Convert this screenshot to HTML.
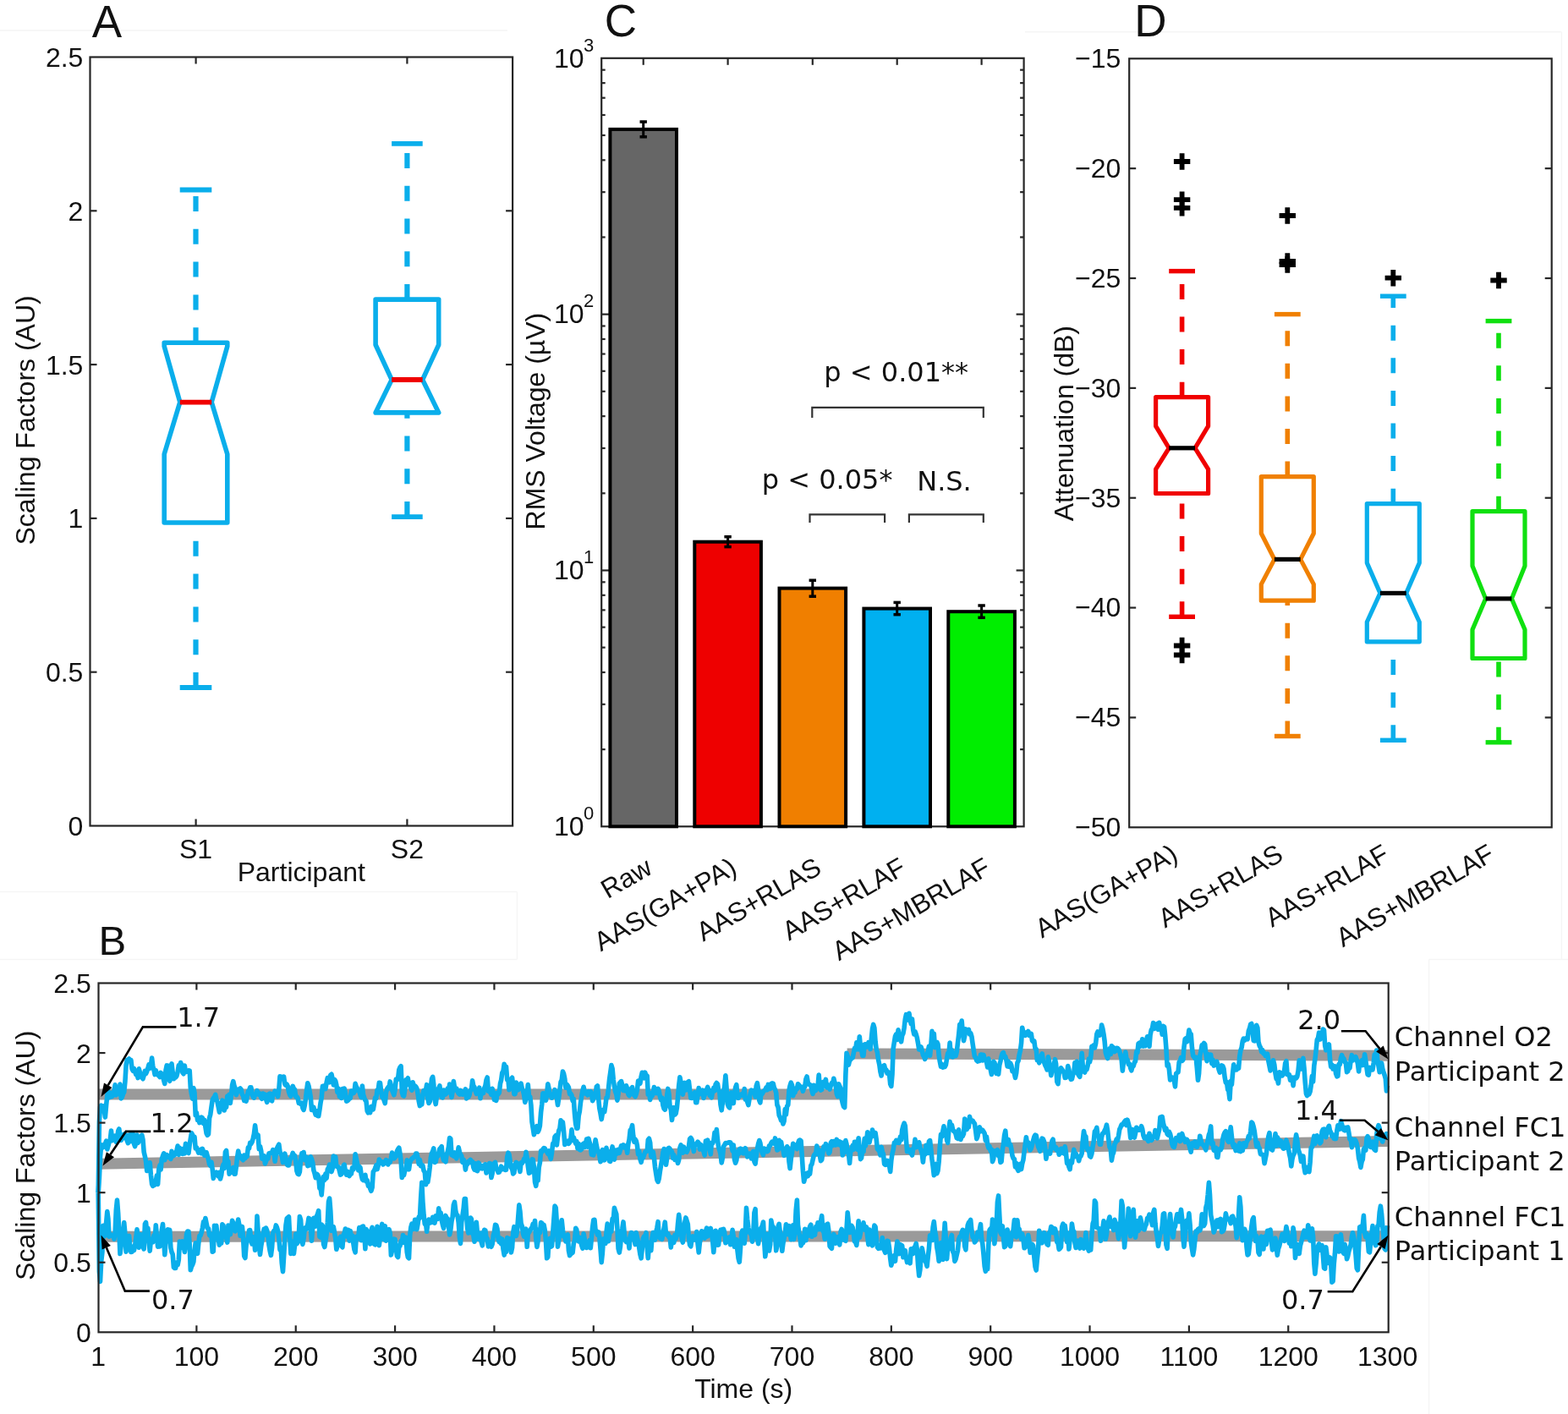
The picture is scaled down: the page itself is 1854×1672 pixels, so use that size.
<!DOCTYPE html>
<html><head><meta charset="utf-8"><title>Figure</title>
<style>html,body{margin:0;padding:0;background:#fff;overflow:hidden;}svg{display:block;}</style></head>
<body><svg width="1854" height="1672" viewBox="0 0 1854 1672">
<rect width="1854" height="1672" fill="#fff"/>
<g stroke="#f5f5f5" stroke-width="1.5" fill="none">
<line x1="0" y1="36" x2="600" y2="36"/>
<line x1="0" y1="1054.5" x2="611" y2="1054.5"/>
<line x1="0" y1="1134.5" x2="611" y2="1134.5"/>
<line x1="611.4" y1="1054.5" x2="611.4" y2="1134.5"/>
<line x1="1212" y1="37.7" x2="1846.4" y2="37.7"/>
<line x1="1846.4" y1="37.7" x2="1846.4" y2="1134.5"/>
<line x1="1689.6" y1="1134.5" x2="1854" y2="1134.5"/>
<line x1="1689.6" y1="1134.5" x2="1689.6" y2="1672"/>
</g>
<text x="108.80" y="43.70" font-size="53" text-anchor="start" font-family="'Liberation Sans', Arial, sans-serif" fill="#111" >A</text>
<rect x="106.5" y="67.5" width="499.60" height="909.00" fill="none" stroke="#262626" stroke-width="2.2"/>
<text x="98.40" y="988.00" font-size="32" text-anchor="end" font-family="'Liberation Sans', Arial, sans-serif" fill="#111" >0</text>
<line x1="106.50" y1="794.70" x2="114.50" y2="794.70" stroke="#262626" stroke-width="2.2" />
<line x1="606.10" y1="794.70" x2="598.10" y2="794.70" stroke="#262626" stroke-width="2.2" />
<text x="98.40" y="806.20" font-size="32" text-anchor="end" font-family="'Liberation Sans', Arial, sans-serif" fill="#111" >0.5</text>
<line x1="106.50" y1="612.90" x2="114.50" y2="612.90" stroke="#262626" stroke-width="2.2" />
<line x1="606.10" y1="612.90" x2="598.10" y2="612.90" stroke="#262626" stroke-width="2.2" />
<text x="98.40" y="624.40" font-size="32" text-anchor="end" font-family="'Liberation Sans', Arial, sans-serif" fill="#111" >1</text>
<line x1="106.50" y1="431.10" x2="114.50" y2="431.10" stroke="#262626" stroke-width="2.2" />
<line x1="606.10" y1="431.10" x2="598.10" y2="431.10" stroke="#262626" stroke-width="2.2" />
<text x="98.40" y="442.60" font-size="32" text-anchor="end" font-family="'Liberation Sans', Arial, sans-serif" fill="#111" >1.5</text>
<line x1="106.50" y1="249.30" x2="114.50" y2="249.30" stroke="#262626" stroke-width="2.2" />
<line x1="606.10" y1="249.30" x2="598.10" y2="249.30" stroke="#262626" stroke-width="2.2" />
<text x="98.40" y="260.80" font-size="32" text-anchor="end" font-family="'Liberation Sans', Arial, sans-serif" fill="#111" >2</text>
<text x="98.40" y="79.00" font-size="32" text-anchor="end" font-family="'Liberation Sans', Arial, sans-serif" fill="#111" >2.5</text>
<line x1="231.60" y1="976.50" x2="231.60" y2="968.50" stroke="#262626" stroke-width="2.2" />
<line x1="231.60" y1="67.50" x2="231.60" y2="75.50" stroke="#262626" stroke-width="2.2" />
<text x="231.60" y="1015.20" font-size="32" text-anchor="middle" font-family="'Liberation Sans', Arial, sans-serif" fill="#111" >S1</text>
<line x1="481.40" y1="976.50" x2="481.40" y2="968.50" stroke="#262626" stroke-width="2.2" />
<line x1="481.40" y1="67.50" x2="481.40" y2="75.50" stroke="#262626" stroke-width="2.2" />
<text x="481.40" y="1015.20" font-size="32" text-anchor="middle" font-family="'Liberation Sans', Arial, sans-serif" fill="#111" >S2</text>
<text x="356.30" y="1041.60" font-size="32" text-anchor="middle" font-family="'Liberation Sans', Arial, sans-serif" fill="#111" >Participant</text>
<text x="40.70" y="496.90" font-size="32" text-anchor="middle" font-family="'Liberation Sans', Arial, sans-serif" fill="#111" transform="rotate(-90 40.7 496.9)">Scaling Factors (AU)</text>
<line x1="231.5" y1="405.20" x2="231.5" y2="224.50" stroke="#0aaeeb" stroke-width="6.2" stroke-dasharray="18 20.8"/>
<line x1="231.5" y1="813.00" x2="231.5" y2="618.00" stroke="#0aaeeb" stroke-width="6.2" stroke-dasharray="18 20.8"/>
<line x1="212.70" y1="224.50" x2="250.30" y2="224.50" stroke="#0aaeeb" stroke-width="5.8"/>
<line x1="212.70" y1="813.00" x2="250.30" y2="813.00" stroke="#0aaeeb" stroke-width="5.8"/>
<path d="M194.20,405.20 L268.80,405.20 L268.80,409.50 L250.20,475.60 L268.80,537.00 L268.80,618.00 L194.20,618.00 L194.20,537.00 L212.80,475.60 L194.20,409.50 Z" fill="none" stroke="#0aaeeb" stroke-width="5.6" stroke-linejoin="round"/>
<line x1="212.80" y1="475.60" x2="250.20" y2="475.60" stroke="#f00000" stroke-width="5.8"/>
<line x1="481.4" y1="354.10" x2="481.4" y2="169.90" stroke="#0aaeeb" stroke-width="6.2" stroke-dasharray="18 20.8"/>
<line x1="481.4" y1="611.10" x2="481.4" y2="487.90" stroke="#0aaeeb" stroke-width="6.2" stroke-dasharray="18 20.8"/>
<line x1="463.10" y1="169.90" x2="499.70" y2="169.90" stroke="#0aaeeb" stroke-width="5.8"/>
<line x1="463.10" y1="611.10" x2="499.70" y2="611.10" stroke="#0aaeeb" stroke-width="5.8"/>
<path d="M444.10,354.10 L518.70,354.10 L518.70,407.80 L499.60,449.00 L518.70,487.90 L518.70,487.90 L444.10,487.90 L444.10,487.90 L463.20,449.00 L444.10,407.80 Z" fill="none" stroke="#0aaeeb" stroke-width="5.6" stroke-linejoin="round"/>
<line x1="463.20" y1="449.00" x2="499.60" y2="449.00" stroke="#f00000" stroke-width="5.8"/>
<text x="714.70" y="43.00" font-size="53" text-anchor="start" font-family="'Liberation Sans', Arial, sans-serif" fill="#111" >C</text>
<rect x="711.2" y="68.8" width="499.40" height="908.50" fill="none" stroke="#262626" stroke-width="2.2"/>
<text x="654.90" y="988.10" font-size="32" text-anchor="start" font-family="'Liberation Sans', Arial, sans-serif" fill="#111" >10</text>
<text x="690.00" y="969.10" font-size="22" text-anchor="start" font-family="'Liberation Sans', Arial, sans-serif" fill="#111" >0</text>
<line x1="711.20" y1="886.14" x2="715.70" y2="886.14" stroke="#262626" stroke-width="2.2" />
<line x1="1210.60" y1="886.14" x2="1206.10" y2="886.14" stroke="#262626" stroke-width="2.2" />
<line x1="711.20" y1="832.81" x2="715.70" y2="832.81" stroke="#262626" stroke-width="2.2" />
<line x1="1210.60" y1="832.81" x2="1206.10" y2="832.81" stroke="#262626" stroke-width="2.2" />
<line x1="711.20" y1="794.98" x2="715.70" y2="794.98" stroke="#262626" stroke-width="2.2" />
<line x1="1210.60" y1="794.98" x2="1206.10" y2="794.98" stroke="#262626" stroke-width="2.2" />
<line x1="711.20" y1="765.63" x2="715.70" y2="765.63" stroke="#262626" stroke-width="2.2" />
<line x1="1210.60" y1="765.63" x2="1206.10" y2="765.63" stroke="#262626" stroke-width="2.2" />
<line x1="711.20" y1="741.65" x2="715.70" y2="741.65" stroke="#262626" stroke-width="2.2" />
<line x1="1210.60" y1="741.65" x2="1206.10" y2="741.65" stroke="#262626" stroke-width="2.2" />
<line x1="711.20" y1="721.38" x2="715.70" y2="721.38" stroke="#262626" stroke-width="2.2" />
<line x1="1210.60" y1="721.38" x2="1206.10" y2="721.38" stroke="#262626" stroke-width="2.2" />
<line x1="711.20" y1="703.81" x2="715.70" y2="703.81" stroke="#262626" stroke-width="2.2" />
<line x1="1210.60" y1="703.81" x2="1206.10" y2="703.81" stroke="#262626" stroke-width="2.2" />
<line x1="711.20" y1="688.32" x2="715.70" y2="688.32" stroke="#262626" stroke-width="2.2" />
<line x1="1210.60" y1="688.32" x2="1206.10" y2="688.32" stroke="#262626" stroke-width="2.2" />
<line x1="711.20" y1="674.47" x2="720.20" y2="674.47" stroke="#262626" stroke-width="2.2" />
<line x1="1210.60" y1="674.47" x2="1201.60" y2="674.47" stroke="#262626" stroke-width="2.2" />
<text x="654.90" y="685.27" font-size="32" text-anchor="start" font-family="'Liberation Sans', Arial, sans-serif" fill="#111" >10</text>
<text x="690.00" y="666.27" font-size="22" text-anchor="start" font-family="'Liberation Sans', Arial, sans-serif" fill="#111" >1</text>
<line x1="711.20" y1="583.30" x2="715.70" y2="583.30" stroke="#262626" stroke-width="2.2" />
<line x1="1210.60" y1="583.30" x2="1206.10" y2="583.30" stroke="#262626" stroke-width="2.2" />
<line x1="711.20" y1="529.98" x2="715.70" y2="529.98" stroke="#262626" stroke-width="2.2" />
<line x1="1210.60" y1="529.98" x2="1206.10" y2="529.98" stroke="#262626" stroke-width="2.2" />
<line x1="711.20" y1="492.14" x2="715.70" y2="492.14" stroke="#262626" stroke-width="2.2" />
<line x1="1210.60" y1="492.14" x2="1206.10" y2="492.14" stroke="#262626" stroke-width="2.2" />
<line x1="711.20" y1="462.80" x2="715.70" y2="462.80" stroke="#262626" stroke-width="2.2" />
<line x1="1210.60" y1="462.80" x2="1206.10" y2="462.80" stroke="#262626" stroke-width="2.2" />
<line x1="711.20" y1="438.82" x2="715.70" y2="438.82" stroke="#262626" stroke-width="2.2" />
<line x1="1210.60" y1="438.82" x2="1206.10" y2="438.82" stroke="#262626" stroke-width="2.2" />
<line x1="711.20" y1="418.54" x2="715.70" y2="418.54" stroke="#262626" stroke-width="2.2" />
<line x1="1210.60" y1="418.54" x2="1206.10" y2="418.54" stroke="#262626" stroke-width="2.2" />
<line x1="711.20" y1="400.98" x2="715.70" y2="400.98" stroke="#262626" stroke-width="2.2" />
<line x1="1210.60" y1="400.98" x2="1206.10" y2="400.98" stroke="#262626" stroke-width="2.2" />
<line x1="711.20" y1="385.49" x2="715.70" y2="385.49" stroke="#262626" stroke-width="2.2" />
<line x1="1210.60" y1="385.49" x2="1206.10" y2="385.49" stroke="#262626" stroke-width="2.2" />
<line x1="711.20" y1="371.63" x2="720.20" y2="371.63" stroke="#262626" stroke-width="2.2" />
<line x1="1210.60" y1="371.63" x2="1201.60" y2="371.63" stroke="#262626" stroke-width="2.2" />
<text x="654.90" y="382.43" font-size="32" text-anchor="start" font-family="'Liberation Sans', Arial, sans-serif" fill="#111" >10</text>
<text x="690.00" y="363.43" font-size="22" text-anchor="start" font-family="'Liberation Sans', Arial, sans-serif" fill="#111" >2</text>
<line x1="711.20" y1="280.47" x2="715.70" y2="280.47" stroke="#262626" stroke-width="2.2" />
<line x1="1210.60" y1="280.47" x2="1206.10" y2="280.47" stroke="#262626" stroke-width="2.2" />
<line x1="711.20" y1="227.15" x2="715.70" y2="227.15" stroke="#262626" stroke-width="2.2" />
<line x1="1210.60" y1="227.15" x2="1206.10" y2="227.15" stroke="#262626" stroke-width="2.2" />
<line x1="711.20" y1="189.31" x2="715.70" y2="189.31" stroke="#262626" stroke-width="2.2" />
<line x1="1210.60" y1="189.31" x2="1206.10" y2="189.31" stroke="#262626" stroke-width="2.2" />
<line x1="711.20" y1="159.96" x2="715.70" y2="159.96" stroke="#262626" stroke-width="2.2" />
<line x1="1210.60" y1="159.96" x2="1206.10" y2="159.96" stroke="#262626" stroke-width="2.2" />
<line x1="711.20" y1="135.98" x2="715.70" y2="135.98" stroke="#262626" stroke-width="2.2" />
<line x1="1210.60" y1="135.98" x2="1206.10" y2="135.98" stroke="#262626" stroke-width="2.2" />
<line x1="711.20" y1="115.71" x2="715.70" y2="115.71" stroke="#262626" stroke-width="2.2" />
<line x1="1210.60" y1="115.71" x2="1206.10" y2="115.71" stroke="#262626" stroke-width="2.2" />
<line x1="711.20" y1="98.15" x2="715.70" y2="98.15" stroke="#262626" stroke-width="2.2" />
<line x1="1210.60" y1="98.15" x2="1206.10" y2="98.15" stroke="#262626" stroke-width="2.2" />
<line x1="711.20" y1="82.66" x2="715.70" y2="82.66" stroke="#262626" stroke-width="2.2" />
<line x1="1210.60" y1="82.66" x2="1206.10" y2="82.66" stroke="#262626" stroke-width="2.2" />
<text x="654.90" y="79.60" font-size="32" text-anchor="start" font-family="'Liberation Sans', Arial, sans-serif" fill="#111" >10</text>
<text x="690.00" y="60.60" font-size="22" text-anchor="start" font-family="'Liberation Sans', Arial, sans-serif" fill="#111" >3</text>
<text x="644.10" y="498.10" font-size="32" text-anchor="middle" font-family="'Liberation Sans', Arial, sans-serif" fill="#111" transform="rotate(-90 644.1 498.1)">RMS Voltage (&#181;V)</text>
<line x1="760.70" y1="68.80" x2="760.70" y2="76.80" stroke="#262626" stroke-width="2.2" />
<rect x="721.40" y="152.90" width="78.6" height="824.40" fill="#666666" stroke="#000" stroke-width="4"/>
<line x1="760.7" y1="144.0" x2="760.7" y2="161.8" stroke="#000" stroke-width="3"/>
<line x1="756.50" y1="144.0" x2="764.90" y2="144.0" stroke="#000" stroke-width="3.5"/>
<line x1="756.50" y1="161.8" x2="764.90" y2="161.8" stroke="#000" stroke-width="3.5"/>
<line x1="860.60" y1="68.80" x2="860.60" y2="76.80" stroke="#262626" stroke-width="2.2" />
<rect x="821.30" y="640.70" width="78.6" height="336.60" fill="#ee0000" stroke="#000" stroke-width="4"/>
<line x1="860.6" y1="634.7" x2="860.6" y2="646.6" stroke="#000" stroke-width="3"/>
<line x1="856.40" y1="634.7" x2="864.80" y2="634.7" stroke="#000" stroke-width="3.5"/>
<line x1="856.40" y1="646.6" x2="864.80" y2="646.6" stroke="#000" stroke-width="3.5"/>
<line x1="960.80" y1="68.80" x2="960.80" y2="76.80" stroke="#262626" stroke-width="2.2" />
<rect x="921.50" y="695.60" width="78.6" height="281.70" fill="#f07f00" stroke="#000" stroke-width="4"/>
<line x1="960.8" y1="686.2" x2="960.8" y2="705.2" stroke="#000" stroke-width="3"/>
<line x1="956.60" y1="686.2" x2="965.00" y2="686.2" stroke="#000" stroke-width="3.5"/>
<line x1="956.60" y1="705.2" x2="965.00" y2="705.2" stroke="#000" stroke-width="3.5"/>
<line x1="1060.70" y1="68.80" x2="1060.70" y2="76.80" stroke="#262626" stroke-width="2.2" />
<rect x="1021.40" y="719.60" width="78.6" height="257.70" fill="#00b0f0" stroke="#000" stroke-width="4"/>
<line x1="1060.7" y1="712.4" x2="1060.7" y2="726.7" stroke="#000" stroke-width="3"/>
<line x1="1056.50" y1="712.4" x2="1064.90" y2="712.4" stroke="#000" stroke-width="3.5"/>
<line x1="1056.50" y1="726.7" x2="1064.90" y2="726.7" stroke="#000" stroke-width="3.5"/>
<line x1="1160.60" y1="68.80" x2="1160.60" y2="76.80" stroke="#262626" stroke-width="2.2" />
<rect x="1121.30" y="723.20" width="78.6" height="254.10" fill="#00ee00" stroke="#000" stroke-width="4"/>
<line x1="1160.6" y1="716.0" x2="1160.6" y2="730.3" stroke="#000" stroke-width="3"/>
<line x1="1156.40" y1="716.0" x2="1164.80" y2="716.0" stroke="#000" stroke-width="3.5"/>
<line x1="1156.40" y1="730.3" x2="1164.80" y2="730.3" stroke="#000" stroke-width="3.5"/>
<text x="773.20" y="1031.80" font-size="31.5" text-anchor="end" font-family="'Liberation Sans', Arial, sans-serif" fill="#111" transform="rotate(-30 773.20 1031.8)">Raw</text>
<text x="873.10" y="1031.80" font-size="31.5" text-anchor="end" font-family="'Liberation Sans', Arial, sans-serif" fill="#111" transform="rotate(-30 873.10 1031.8)">AAS(GA+PA)</text>
<text x="973.30" y="1031.80" font-size="31.5" text-anchor="end" font-family="'Liberation Sans', Arial, sans-serif" fill="#111" transform="rotate(-30 973.30 1031.8)">AAS+RLAS</text>
<text x="1073.20" y="1031.80" font-size="31.5" text-anchor="end" font-family="'Liberation Sans', Arial, sans-serif" fill="#111" transform="rotate(-30 1073.20 1031.8)">AAS+RLAF</text>
<text x="1173.10" y="1031.80" font-size="31.5" text-anchor="end" font-family="'Liberation Sans', Arial, sans-serif" fill="#111" transform="rotate(-30 1173.10 1031.8)">AAS+MBRLAF</text>
<path d="M960.3,494 L960.3,481.9 L1162.8,481.9 L1162.8,494" fill="none" stroke="#333" stroke-width="2.2"/>
<path d="M957.5,618 L957.5,608.3 L1046.1,608.3 L1046.1,618" fill="none" stroke="#333" stroke-width="2.2"/>
<path d="M1074.9,618 L1074.9,608.3 L1162.8,608.3 L1162.8,618" fill="none" stroke="#333" stroke-width="2.2"/>
<text x="974.30" y="451.30" font-size="32" text-anchor="start" font-family="'DejaVu Sans', sans-serif" fill="#111" >p &lt; 0.01**</text>
<text x="900.70" y="577.70" font-size="32" text-anchor="start" font-family="'DejaVu Sans', sans-serif" fill="#111" >p &lt; 0.05*</text>
<text x="1084.20" y="579.50" font-size="32" text-anchor="start" font-family="'DejaVu Sans', sans-serif" fill="#111" >N.S.</text>
<text x="1341.20" y="43.40" font-size="53" text-anchor="start" font-family="'Liberation Sans', Arial, sans-serif" fill="#111" >D</text>
<rect x="1335.2" y="69.3" width="499.50" height="909.00" fill="none" stroke="#262626" stroke-width="2.2"/>
<text x="1325.40" y="80.10" font-size="32" text-anchor="end" font-family="'Liberation Sans', Arial, sans-serif" fill="#111" >&#8722;15</text>
<line x1="1335.20" y1="199.16" x2="1343.20" y2="199.16" stroke="#262626" stroke-width="2.2" />
<line x1="1834.70" y1="199.16" x2="1826.70" y2="199.16" stroke="#262626" stroke-width="2.2" />
<text x="1325.40" y="209.96" font-size="32" text-anchor="end" font-family="'Liberation Sans', Arial, sans-serif" fill="#111" >&#8722;20</text>
<line x1="1335.20" y1="329.01" x2="1343.20" y2="329.01" stroke="#262626" stroke-width="2.2" />
<line x1="1834.70" y1="329.01" x2="1826.70" y2="329.01" stroke="#262626" stroke-width="2.2" />
<text x="1325.40" y="339.81" font-size="32" text-anchor="end" font-family="'Liberation Sans', Arial, sans-serif" fill="#111" >&#8722;25</text>
<line x1="1335.20" y1="458.87" x2="1343.20" y2="458.87" stroke="#262626" stroke-width="2.2" />
<line x1="1834.70" y1="458.87" x2="1826.70" y2="458.87" stroke="#262626" stroke-width="2.2" />
<text x="1325.40" y="469.67" font-size="32" text-anchor="end" font-family="'Liberation Sans', Arial, sans-serif" fill="#111" >&#8722;30</text>
<line x1="1335.20" y1="588.73" x2="1343.20" y2="588.73" stroke="#262626" stroke-width="2.2" />
<line x1="1834.70" y1="588.73" x2="1826.70" y2="588.73" stroke="#262626" stroke-width="2.2" />
<text x="1325.40" y="599.53" font-size="32" text-anchor="end" font-family="'Liberation Sans', Arial, sans-serif" fill="#111" >&#8722;35</text>
<line x1="1335.20" y1="718.59" x2="1343.20" y2="718.59" stroke="#262626" stroke-width="2.2" />
<line x1="1834.70" y1="718.59" x2="1826.70" y2="718.59" stroke="#262626" stroke-width="2.2" />
<text x="1325.40" y="729.39" font-size="32" text-anchor="end" font-family="'Liberation Sans', Arial, sans-serif" fill="#111" >&#8722;40</text>
<line x1="1335.20" y1="848.44" x2="1343.20" y2="848.44" stroke="#262626" stroke-width="2.2" />
<line x1="1834.70" y1="848.44" x2="1826.70" y2="848.44" stroke="#262626" stroke-width="2.2" />
<text x="1325.40" y="859.24" font-size="32" text-anchor="end" font-family="'Liberation Sans', Arial, sans-serif" fill="#111" >&#8722;45</text>
<text x="1325.40" y="989.10" font-size="32" text-anchor="end" font-family="'Liberation Sans', Arial, sans-serif" fill="#111" >&#8722;50</text>
<text x="1268.60" y="500.60" font-size="32" text-anchor="middle" font-family="'Liberation Sans', Arial, sans-serif" fill="#111" transform="rotate(-90 1268.6 500.6)">Attenuation (dB)</text>
<line x1="1397.6" y1="469.70" x2="1397.6" y2="320.60" stroke="#f00000" stroke-width="5.6" stroke-dasharray="18 20.6"/>
<line x1="1397.6" y1="729.30" x2="1397.6" y2="583.50" stroke="#f00000" stroke-width="5.6" stroke-dasharray="18 20.6"/>
<line x1="1382.20" y1="320.60" x2="1413.00" y2="320.60" stroke="#f00000" stroke-width="5.4"/>
<line x1="1382.20" y1="729.30" x2="1413.00" y2="729.30" stroke="#f00000" stroke-width="5.4"/>
<path d="M1366.60,469.70 L1428.60,469.70 L1428.60,503.80 L1413.00,529.80 L1428.60,554.90 L1428.60,583.50 L1366.60,583.50 L1366.60,554.90 L1382.20,529.80 L1366.60,503.80 Z" fill="none" stroke="#f00000" stroke-width="5.2" stroke-linejoin="round"/>
<line x1="1382.20" y1="529.80" x2="1413.00" y2="529.80" stroke="#000" stroke-width="5.2"/>
<path d="M1387.90,191.0 h19.4 M1397.60,181.30 v19.4" stroke="#000" stroke-width="5.8"/>
<path d="M1387.90,236.2 h19.4 M1397.60,226.50 v19.4" stroke="#000" stroke-width="5.8"/>
<path d="M1387.90,245.9 h19.4 M1397.60,236.20 v19.4" stroke="#000" stroke-width="5.8"/>
<path d="M1387.90,763.5 h19.4 M1397.60,753.80 v19.4" stroke="#000" stroke-width="5.8"/>
<path d="M1387.90,774.5 h19.4 M1397.60,764.80 v19.4" stroke="#000" stroke-width="5.8"/>
<text x="1394.60" y="1016.00" font-size="31.5" text-anchor="end" font-family="'Liberation Sans', Arial, sans-serif" fill="#111" transform="rotate(-30 1394.60 1016)">AAS(GA+PA)</text>
<line x1="1522.3" y1="563.60" x2="1522.3" y2="371.60" stroke="#f08000" stroke-width="5.6" stroke-dasharray="18 20.6"/>
<line x1="1522.3" y1="870.50" x2="1522.3" y2="710.20" stroke="#f08000" stroke-width="5.6" stroke-dasharray="18 20.6"/>
<line x1="1506.90" y1="371.60" x2="1537.70" y2="371.60" stroke="#f08000" stroke-width="5.4"/>
<line x1="1506.90" y1="870.50" x2="1537.70" y2="870.50" stroke="#f08000" stroke-width="5.4"/>
<path d="M1491.30,563.60 L1553.30,563.60 L1553.30,630.70 L1537.70,661.40 L1553.30,690.90 L1553.30,710.20 L1491.30,710.20 L1491.30,690.90 L1506.90,661.40 L1491.30,630.70 Z" fill="none" stroke="#f08000" stroke-width="5.2" stroke-linejoin="round"/>
<line x1="1506.90" y1="661.40" x2="1537.70" y2="661.40" stroke="#000" stroke-width="5.2"/>
<path d="M1512.60,255.0 h19.4 M1522.30,245.30 v19.4" stroke="#000" stroke-width="5.8"/>
<path d="M1512.60,309.0 h19.4 M1522.30,299.30 v19.4" stroke="#000" stroke-width="5.8"/>
<path d="M1512.60,313.0 h19.4 M1522.30,303.30 v19.4" stroke="#000" stroke-width="5.8"/>
<text x="1519.30" y="1016.00" font-size="31.5" text-anchor="end" font-family="'Liberation Sans', Arial, sans-serif" fill="#111" transform="rotate(-30 1519.30 1016)">AAS+RLAS</text>
<line x1="1647.3" y1="595.70" x2="1647.3" y2="350.20" stroke="#0aaeeb" stroke-width="5.6" stroke-dasharray="18 20.6"/>
<line x1="1647.3" y1="875.30" x2="1647.3" y2="758.80" stroke="#0aaeeb" stroke-width="5.6" stroke-dasharray="18 20.6"/>
<line x1="1631.90" y1="350.20" x2="1662.70" y2="350.20" stroke="#0aaeeb" stroke-width="5.4"/>
<line x1="1631.90" y1="875.30" x2="1662.70" y2="875.30" stroke="#0aaeeb" stroke-width="5.4"/>
<path d="M1616.30,595.70 L1678.30,595.70 L1678.30,665.60 L1662.70,701.40 L1678.30,735.50 L1678.30,758.80 L1616.30,758.80 L1616.30,735.50 L1631.90,701.40 L1616.30,665.60 Z" fill="none" stroke="#0aaeeb" stroke-width="5.2" stroke-linejoin="round"/>
<line x1="1631.90" y1="701.40" x2="1662.70" y2="701.40" stroke="#000" stroke-width="5.2"/>
<path d="M1637.60,328.7 h19.4 M1647.30,319.00 v19.4" stroke="#000" stroke-width="5.8"/>
<text x="1644.30" y="1016.00" font-size="31.5" text-anchor="end" font-family="'Liberation Sans', Arial, sans-serif" fill="#111" transform="rotate(-30 1644.30 1016)">AAS+RLAF</text>
<line x1="1772.0" y1="604.70" x2="1772.0" y2="379.60" stroke="#10e010" stroke-width="5.6" stroke-dasharray="18 20.6"/>
<line x1="1772.0" y1="877.80" x2="1772.0" y2="778.50" stroke="#10e010" stroke-width="5.6" stroke-dasharray="18 20.6"/>
<line x1="1756.60" y1="379.60" x2="1787.40" y2="379.60" stroke="#10e010" stroke-width="5.4"/>
<line x1="1756.60" y1="877.80" x2="1787.40" y2="877.80" stroke="#10e010" stroke-width="5.4"/>
<path d="M1741.00,604.70 L1803.00,604.70 L1803.00,669.20 L1787.40,707.90 L1803.00,744.40 L1803.00,778.50 L1741.00,778.50 L1741.00,744.40 L1756.60,707.90 L1741.00,669.20 Z" fill="none" stroke="#10e010" stroke-width="5.2" stroke-linejoin="round"/>
<line x1="1756.60" y1="707.90" x2="1787.40" y2="707.90" stroke="#000" stroke-width="5.2"/>
<path d="M1762.30,331.5 h19.4 M1772.00,321.80 v19.4" stroke="#000" stroke-width="5.8"/>
<text x="1769.00" y="1016.00" font-size="31.5" text-anchor="end" font-family="'Liberation Sans', Arial, sans-serif" fill="#111" transform="rotate(-30 1769.00 1016)">AAS+MBRLAF</text>
<text x="116.40" y="1128.80" font-size="49" text-anchor="start" font-family="'Liberation Sans', Arial, sans-serif" fill="#111" >B</text>
<line x1="116.2" y1="1293.9" x2="997.4" y2="1293.9" stroke="#9a9a9a" stroke-width="13"/>
<line x1="1001.6" y1="1245.9" x2="1640.6" y2="1248.2" stroke="#9a9a9a" stroke-width="13"/>
<line x1="116.2" y1="1376.3" x2="1640.6" y2="1349.4" stroke="#9a9a9a" stroke-width="13"/>
<line x1="116.2" y1="1462.2" x2="1640.6" y2="1461.7" stroke="#9a9a9a" stroke-width="13"/>
<polyline points="116.2,1410.2 117.4,1326.4 118.5,1308.9 119.7,1307.2 120.9,1310.8 122.1,1307.8 123.2,1312.7 124.4,1321.1 125.6,1307.0 126.8,1295.3 127.9,1290.3 129.1,1297.7 130.3,1297.3 131.5,1292.4 132.6,1296.6 133.8,1292.4 135.0,1290.2 136.1,1282.8 137.3,1294.9 138.5,1290.1 139.7,1291.8 140.8,1293.4 142.0,1282.1 143.2,1298.9 144.4,1297.3 145.5,1293.6 146.7,1291.6 147.9,1279.3 149.1,1259.5 150.2,1253.5 151.4,1253.1 152.6,1251.9 153.8,1253.4 154.9,1253.6 156.1,1263.9 157.3,1266.2 158.4,1263.3 159.6,1266.8 160.8,1270.6 162.0,1269.5 163.1,1274.6 164.3,1263.9 165.5,1268.2 166.7,1270.5 167.8,1274.0 169.0,1275.7 170.2,1271.8 171.4,1266.3 172.5,1269.7 173.7,1267.0 174.9,1263.2 176.0,1258.9 177.2,1263.2 178.4,1259.6 179.6,1251.1 180.7,1260.4 181.9,1264.7 183.1,1270.6 184.3,1265.7 185.4,1270.0 186.6,1271.1 187.8,1272.0 189.0,1273.5 190.1,1268.4 191.3,1270.1 192.5,1272.8 193.7,1277.5 194.8,1281.5 196.0,1265.6 197.2,1259.9 198.3,1260.1 199.5,1274.2 200.7,1278.3 201.9,1261.0 203.0,1257.9 204.2,1268.0 205.4,1275.8 206.6,1272.0 207.7,1274.0 208.9,1272.3 210.1,1267.6 211.3,1259.7 212.4,1262.0 213.6,1256.5 214.8,1259.8 215.9,1268.2 217.1,1269.7 218.3,1260.0 219.5,1267.6 220.6,1267.1 221.8,1267.1 223.0,1265.9 224.2,1266.0 225.3,1286.3 226.5,1293.7 227.7,1299.1 228.9,1286.5 230.0,1292.1 231.2,1318.7 232.4,1315.9 233.6,1324.5 234.7,1321.4 235.9,1327.6 237.1,1324.6 238.2,1321.1 239.4,1322.0 240.6,1328.5 241.8,1324.5 242.9,1332.6 244.1,1340.1 245.3,1342.3 246.5,1341.1 247.6,1322.0 248.8,1317.7 250.0,1308.9 251.2,1300.6 252.3,1298.5 253.5,1297.1 254.7,1294.4 255.8,1299.3 257.0,1302.8 258.2,1308.8 259.4,1315.1 260.5,1309.9 261.7,1306.0 262.9,1301.1 264.1,1302.9 265.2,1313.0 266.4,1308.3 267.6,1309.0 268.8,1296.0 269.9,1298.9 271.1,1294.3 272.3,1304.4 273.5,1294.9 274.6,1283.0 275.8,1278.6 277.0,1284.1 278.1,1286.8 279.3,1294.7 280.5,1291.6 281.7,1289.5 282.8,1287.8 284.0,1287.0 285.2,1288.3 286.4,1294.0 287.5,1295.7 288.7,1301.5 289.9,1298.2 291.1,1302.2 292.2,1297.0 293.4,1290.3 294.6,1289.3 295.7,1285.9 296.9,1285.9 298.1,1294.1 299.3,1297.1 300.4,1298.1 301.6,1294.6 302.8,1294.1 304.0,1289.7 305.1,1292.2 306.3,1294.4 307.5,1293.1 308.7,1297.7 309.8,1299.3 311.0,1293.0 312.2,1297.1 313.4,1294.1 314.5,1299.6 315.7,1303.3 316.9,1298.5 318.0,1293.7 319.2,1293.2 320.4,1300.9 321.6,1301.8 322.7,1293.3 323.9,1294.0 325.1,1290.2 326.3,1292.2 327.4,1290.5 328.6,1296.6 329.8,1288.5 331.0,1272.8 332.1,1275.7 333.3,1273.5 334.5,1274.4 335.6,1273.1 336.8,1282.0 338.0,1283.3 339.2,1282.3 340.3,1284.5 341.5,1291.2 342.7,1294.7 343.9,1296.2 345.0,1288.0 346.2,1284.3 347.4,1287.2 348.6,1288.5 349.7,1297.0 350.9,1296.8 352.1,1298.4 353.3,1304.4 354.4,1304.4 355.6,1305.6 356.8,1304.1 357.9,1310.1 359.1,1312.4 360.3,1307.2 361.5,1298.8 362.6,1289.2 363.8,1280.7 365.0,1284.1 366.2,1290.9 367.3,1297.2 368.5,1312.5 369.7,1309.9 370.9,1309.5 372.0,1314.2 373.2,1318.1 374.4,1313.8 375.5,1319.5 376.7,1319.7 377.9,1312.3 379.1,1303.7 380.2,1297.9 381.4,1284.4 382.6,1287.7 383.8,1283.8 384.9,1287.6 386.1,1280.0 387.3,1274.6 388.5,1278.7 389.6,1279.7 390.8,1271.4 392.0,1270.3 393.2,1276.1 394.3,1282.9 395.5,1276.4 396.7,1278.2 397.8,1282.8 399.0,1291.6 400.2,1287.1 401.4,1296.7 402.5,1292.1 403.7,1298.4 404.9,1287.5 406.1,1295.6 407.2,1287.1 408.4,1292.3 409.6,1302.2 410.8,1301.8 411.9,1300.8 413.1,1297.7 414.3,1298.5 415.4,1290.1 416.6,1292.4 417.8,1292.7 419.0,1291.2 420.1,1281.4 421.3,1285.1 422.5,1287.0 423.7,1289.6 424.8,1290.4 426.0,1294.8 427.2,1297.6 428.4,1284.0 429.5,1294.1 430.7,1297.9 431.9,1301.0 433.0,1302.1 434.2,1313.7 435.4,1315.9 436.6,1315.1 437.7,1315.5 438.9,1308.6 440.1,1308.7 441.3,1311.8 442.4,1305.2 443.6,1298.1 444.8,1298.5 446.0,1289.0 447.1,1289.7 448.3,1280.3 449.5,1280.5 450.7,1291.0 451.8,1297.0 453.0,1298.3 454.2,1301.3 455.3,1304.5 456.5,1291.6 457.7,1287.6 458.9,1285.7 460.0,1286.9 461.2,1278.9 462.4,1283.4 463.6,1289.1 464.7,1292.0 465.9,1294.8 467.1,1288.7 468.3,1276.1 469.4,1277.0 470.6,1275.4 471.8,1265.0 472.9,1262.2 474.1,1260.7 475.3,1291.4 476.5,1295.4 477.6,1296.0 478.8,1288.4 480.0,1276.8 481.2,1276.7 482.3,1274.8 483.5,1282.9 484.7,1280.3 485.9,1287.4 487.0,1289.2 488.2,1279.8 489.4,1285.5 490.6,1284.0 491.7,1284.9 492.9,1287.1 494.1,1293.5 495.2,1302.0 496.4,1307.6 497.6,1303.5 498.8,1305.9 499.9,1294.2 501.1,1289.5 502.3,1293.0 503.5,1289.1 504.6,1282.7 505.8,1298.8 507.0,1304.4 508.2,1302.5 509.3,1286.5 510.5,1275.7 511.7,1273.3 512.8,1282.7 514.0,1300.1 515.2,1305.6 516.4,1296.5 517.5,1287.8 518.7,1287.3 519.9,1284.0 521.1,1294.3 522.2,1297.3 523.4,1297.8 524.6,1289.1 525.8,1293.1 526.9,1294.0 528.1,1292.6 529.3,1287.2 530.5,1291.5 531.6,1282.1 532.8,1288.8 534.0,1297.5 535.1,1290.8 536.3,1278.5 537.5,1286.0 538.7,1288.8 539.8,1287.1 541.0,1290.5 542.2,1293.1 543.4,1294.0 544.5,1289.4 545.7,1291.5 546.9,1294.1 548.1,1290.6 549.2,1292.6 550.4,1287.9 551.6,1298.9 552.7,1295.6 553.9,1297.2 555.1,1294.8 556.3,1289.0 557.4,1288.2 558.6,1277.9 559.8,1284.1 561.0,1285.6 562.1,1290.0 563.3,1293.3 564.5,1292.1 565.7,1290.9 566.8,1286.2 568.0,1298.8 569.2,1290.3 570.4,1289.6 571.5,1292.7 572.7,1286.6 573.9,1283.8 575.0,1277.1 576.2,1274.0 577.4,1290.3 578.6,1289.4 579.7,1291.9 580.9,1294.4 582.1,1287.3 583.3,1292.1 584.4,1300.5 585.6,1295.5 586.8,1301.4 588.0,1292.2 589.1,1293.7 590.3,1292.1 591.5,1281.3 592.6,1277.3 593.8,1268.4 595.0,1266.5 596.2,1258.2 597.3,1263.6 598.5,1261.2 599.7,1276.7 600.9,1276.3 602.0,1288.7 603.2,1279.9 604.4,1275.7 605.6,1274.3 606.7,1284.2 607.9,1293.7 609.1,1293.6 610.3,1280.0 611.4,1281.9 612.6,1288.8 613.8,1284.3 614.9,1284.8 616.1,1281.2 617.3,1287.0 618.5,1289.8 619.6,1294.6 620.8,1303.4 622.0,1298.4 623.2,1292.7 624.3,1282.5 625.5,1296.6 626.7,1296.7 627.9,1306.5 629.0,1326.5 630.2,1334.0 631.4,1341.8 632.5,1338.0 633.7,1335.9 634.9,1331.7 636.1,1338.4 637.2,1336.1 638.4,1331.0 639.6,1315.2 640.8,1305.5 641.9,1292.7 643.1,1293.2 644.3,1295.0 645.5,1301.2 646.6,1293.6 647.8,1281.7 649.0,1286.9 650.2,1295.4 651.3,1295.8 652.5,1298.2 653.7,1296.0 654.8,1295.1 656.0,1288.7 657.2,1291.7 658.4,1298.7 659.5,1306.6 660.7,1298.6 661.9,1288.9 663.1,1279.2 664.2,1277.1 665.4,1267.0 666.6,1269.7 667.8,1275.6 668.9,1286.2 670.1,1282.1 671.3,1283.7 672.4,1285.8 673.6,1293.6 674.8,1293.2 676.0,1295.2 677.1,1301.6 678.3,1299.5 679.5,1317.0 680.7,1329.1 681.8,1334.1 683.0,1334.1 684.2,1319.4 685.4,1313.8 686.5,1303.7 687.7,1296.1 688.9,1289.6 690.1,1285.3 691.2,1290.2 692.4,1293.1 693.6,1292.5 694.7,1294.9 695.9,1290.7 697.1,1292.8 698.3,1290.6 699.4,1292.3 700.6,1301.7 701.8,1299.5 703.0,1293.6 704.1,1296.0 705.3,1285.1 706.5,1283.9 707.7,1299.1 708.8,1310.5 710.0,1316.5 711.2,1323.6 712.3,1317.0 713.5,1312.3 714.7,1314.8 715.9,1306.9 717.0,1298.1 718.2,1297.2 719.4,1287.9 720.6,1276.0 721.7,1268.3 722.9,1259.6 724.1,1263.5 725.3,1277.1 726.4,1284.8 727.6,1290.6 728.8,1294.0 729.9,1301.2 731.1,1293.3 732.3,1281.1 733.5,1279.7 734.6,1278.6 735.8,1283.2 737.0,1289.5 738.2,1286.5 739.3,1289.9 740.5,1283.8 741.7,1287.3 742.9,1293.9 744.0,1295.6 745.2,1293.0 746.4,1287.2 747.6,1285.6 748.7,1292.5 749.9,1295.3 751.1,1296.7 752.2,1293.8 753.4,1288.9 754.6,1278.0 755.8,1281.5 756.9,1281.2 758.1,1273.1 759.3,1268.3 760.5,1270.7 761.6,1274.9 762.8,1268.2 764.0,1273.1 765.2,1272.2 766.3,1294.1 767.5,1291.7 768.7,1300.4 769.8,1295.1 771.0,1296.2 772.2,1291.8 773.4,1285.5 774.5,1292.1 775.7,1292.7 776.9,1290.6 778.1,1287.3 779.2,1290.2 780.4,1296.7 781.6,1300.7 782.8,1298.1 783.9,1307.0 785.1,1311.0 786.3,1312.1 787.5,1306.1 788.6,1295.6 789.8,1287.4 791.0,1293.5 792.1,1308.2 793.3,1312.1 794.5,1324.5 795.7,1315.1 796.8,1309.7 798.0,1318.1 799.2,1316.5 800.4,1309.7 801.5,1298.3 802.7,1283.5 803.9,1273.7 805.1,1279.9 806.2,1290.1 807.4,1294.1 808.6,1285.9 809.7,1280.4 810.9,1289.0 812.1,1283.9 813.3,1279.5 814.4,1278.7 815.6,1288.9 816.8,1298.3 818.0,1298.4 819.1,1296.6 820.3,1293.6 821.5,1291.8 822.7,1303.8 823.8,1303.8 825.0,1294.9 826.2,1286.5 827.4,1293.7 828.5,1291.5 829.7,1293.2 830.9,1289.2 832.0,1298.5 833.2,1294.6 834.4,1291.6 835.6,1288.3 836.7,1285.4 837.9,1288.9 839.1,1295.3 840.3,1289.8 841.4,1297.9 842.6,1290.9 843.8,1286.4 845.0,1289.9 846.1,1282.3 847.3,1280.5 848.5,1281.9 849.6,1289.1 850.8,1291.0 852.0,1306.3 853.2,1312.8 854.3,1304.3 855.5,1290.5 856.7,1284.7 857.9,1271.7 859.0,1285.5 860.2,1305.2 861.4,1308.5 862.6,1309.9 863.7,1297.6 864.9,1291.9 866.1,1298.5 867.3,1304.6 868.4,1293.0 869.6,1286.0 870.8,1282.7 871.9,1296.2 873.1,1298.4 874.3,1294.3 875.5,1295.7 876.6,1295.3 877.8,1293.1 879.0,1295.3 880.2,1287.6 881.3,1300.1 882.5,1299.7 883.7,1303.0 884.9,1306.5 886.0,1299.8 887.2,1293.1 888.4,1289.1 889.5,1290.2 890.7,1291.2 891.9,1289.4 893.1,1296.9 894.2,1284.2 895.4,1280.6 896.6,1288.5 897.8,1301.2 898.9,1303.8 900.1,1291.8 901.3,1293.4 902.5,1290.9 903.6,1289.6 904.8,1288.6 906.0,1286.0 907.2,1288.8 908.3,1282.4 909.5,1286.3 910.7,1287.4 911.8,1281.5 913.0,1280.9 914.2,1281.2 915.4,1286.3 916.5,1288.3 917.7,1292.2 918.9,1306.5 920.1,1309.2 921.2,1318.7 922.4,1321.2 923.6,1324.9 924.8,1323.0 925.9,1328.9 927.1,1325.8 928.3,1311.6 929.4,1317.9 930.6,1308.0 931.8,1306.6 933.0,1289.2 934.1,1283.9 935.3,1280.2 936.5,1283.1 937.7,1295.8 938.8,1291.9 940.0,1291.7 941.2,1286.9 942.4,1287.6 943.5,1281.8 944.7,1283.0 945.9,1284.7 947.1,1285.9 948.2,1285.4 949.4,1290.4 950.6,1285.7 951.7,1285.2 952.9,1276.1 954.1,1273.0 955.3,1280.1 956.4,1282.2 957.6,1282.7 958.8,1283.5 960.0,1289.4 961.1,1293.5 962.3,1283.2 963.5,1289.9 964.7,1289.3 965.8,1285.9 967.0,1284.8 968.2,1271.0 969.3,1285.5 970.5,1289.0 971.7,1288.5 972.9,1279.7 974.0,1279.1 975.2,1282.2 976.4,1276.4 977.6,1286.0 978.7,1285.1 979.9,1283.4 981.1,1288.1 982.3,1283.7 983.4,1280.7 984.6,1281.5 985.8,1275.3 987.0,1280.1 988.1,1283.4 989.3,1293.4 990.5,1296.5 991.6,1281.7 992.8,1284.4 994.0,1287.2 995.2,1299.5 996.3,1304.5 997.5,1308.4 998.7,1309.6 999.9,1270.4 1001.0,1245.3 1002.2,1248.7 1003.4,1259.2 1004.6,1253.8 1005.7,1253.1 1006.9,1251.1 1008.1,1251.0 1009.2,1245.7 1010.4,1239.7 1011.6,1241.1 1012.8,1232.8 1013.9,1235.5 1015.1,1240.8 1016.3,1225.8 1017.5,1238.2 1018.6,1241.3 1019.8,1248.3 1021.0,1248.3 1022.2,1235.0 1023.3,1234.8 1024.5,1238.0 1025.7,1237.6 1026.9,1232.6 1028.0,1235.6 1029.2,1240.5 1030.4,1227.5 1031.5,1216.5 1032.7,1211.4 1033.9,1215.6 1035.1,1231.7 1036.2,1240.4 1037.4,1244.6 1038.6,1253.3 1039.8,1258.8 1040.9,1267.0 1042.1,1272.0 1043.3,1265.0 1044.5,1260.4 1045.6,1259.8 1046.8,1265.0 1048.0,1265.0 1049.1,1269.2 1050.3,1267.8 1051.5,1269.6 1052.7,1281.9 1053.8,1284.4 1055.0,1270.6 1056.2,1239.7 1057.4,1232.1 1058.5,1225.2 1059.7,1222.9 1060.9,1229.5 1062.1,1217.8 1063.2,1227.4 1064.4,1226.3 1065.6,1231.8 1066.7,1224.5 1067.9,1222.1 1069.1,1215.4 1070.3,1205.1 1071.4,1199.7 1072.6,1205.8 1073.8,1206.1 1075.0,1198.3 1076.1,1206.3 1077.3,1210.7 1078.5,1205.0 1079.7,1217.8 1080.8,1222.8 1082.0,1219.8 1083.2,1222.9 1084.4,1227.4 1085.5,1233.4 1086.7,1241.0 1087.9,1241.1 1089.0,1237.9 1090.2,1241.9 1091.4,1247.6 1092.6,1249.5 1093.7,1252.4 1094.9,1249.0 1096.1,1247.0 1097.3,1242.9 1098.4,1237.4 1099.6,1248.2 1100.8,1236.4 1102.0,1219.4 1103.1,1231.5 1104.3,1222.3 1105.5,1238.6 1106.6,1235.5 1107.8,1232.3 1109.0,1234.8 1110.2,1248.3 1111.3,1255.2 1112.5,1261.1 1113.7,1258.4 1114.9,1262.2 1116.0,1259.9 1117.2,1261.3 1118.4,1259.1 1119.6,1251.6 1120.7,1245.6 1121.9,1246.0 1123.1,1233.0 1124.3,1249.1 1125.4,1241.6 1126.6,1250.0 1127.8,1248.1 1128.9,1248.6 1130.1,1248.6 1131.3,1243.5 1132.5,1233.0 1133.6,1223.9 1134.8,1211.2 1136.0,1212.5 1137.2,1207.1 1138.3,1221.3 1139.5,1230.6 1140.7,1224.9 1141.9,1216.9 1143.0,1217.8 1144.2,1218.2 1145.4,1217.5 1146.5,1222.9 1147.7,1221.7 1148.9,1225.5 1150.1,1234.1 1151.2,1241.5 1152.4,1249.1 1153.6,1250.6 1154.8,1254.0 1155.9,1255.0 1157.1,1252.3 1158.3,1254.3 1159.5,1247.1 1160.6,1247.0 1161.8,1254.0 1163.0,1247.4 1164.2,1252.8 1165.3,1253.7 1166.5,1255.8 1167.7,1262.0 1168.8,1251.8 1170.0,1261.2 1171.2,1264.5 1172.4,1270.5 1173.5,1263.3 1174.7,1255.3 1175.9,1256.5 1177.1,1260.6 1178.2,1269.4 1179.4,1267.5 1180.6,1270.2 1181.8,1259.3 1182.9,1255.1 1184.1,1249.2 1185.3,1245.4 1186.4,1244.6 1187.6,1249.4 1188.8,1249.4 1190.0,1254.1 1191.1,1260.8 1192.3,1255.1 1193.5,1261.5 1194.7,1257.3 1195.8,1259.6 1197.0,1266.8 1198.2,1266.9 1199.4,1269.3 1200.5,1274.5 1201.7,1268.7 1202.9,1256.8 1204.1,1254.3 1205.2,1247.2 1206.4,1242.4 1207.6,1233.1 1208.7,1215.2 1209.9,1220.5 1211.1,1220.5 1212.3,1224.5 1213.4,1221.1 1214.6,1222.5 1215.8,1219.5 1217.0,1224.4 1218.1,1223.6 1219.3,1222.4 1220.5,1230.6 1221.7,1231.8 1222.8,1230.9 1224.0,1239.9 1225.2,1240.3 1226.3,1253.6 1227.5,1252.8 1228.7,1256.8 1229.9,1252.1 1231.0,1248.4 1232.2,1246.0 1233.4,1254.6 1234.6,1256.1 1235.7,1259.4 1236.9,1261.8 1238.1,1264.9 1239.3,1249.9 1240.4,1254.2 1241.6,1262.1 1242.8,1271.7 1244.0,1265.8 1245.1,1259.1 1246.3,1258.1 1247.5,1252.7 1248.6,1257.8 1249.8,1279.1 1251.0,1281.7 1252.2,1268.4 1253.3,1267.6 1254.5,1262.8 1255.7,1264.6 1256.9,1266.5 1258.0,1267.8 1259.2,1274.4 1260.4,1274.2 1261.6,1270.8 1262.7,1260.5 1263.9,1264.7 1265.1,1272.5 1266.2,1276.3 1267.4,1276.0 1268.6,1270.8 1269.8,1268.3 1270.9,1256.5 1272.1,1257.3 1273.3,1255.2 1274.5,1269.7 1275.6,1271.7 1276.8,1273.2 1278.0,1260.8 1279.2,1245.4 1280.3,1261.0 1281.5,1267.0 1282.7,1268.0 1283.9,1262.0 1285.0,1264.6 1286.2,1259.8 1287.4,1252.1 1288.5,1255.9 1289.7,1250.5 1290.9,1237.3 1292.1,1237.2 1293.2,1236.0 1294.4,1239.0 1295.6,1234.1 1296.8,1222.7 1297.9,1220.0 1299.1,1221.2 1300.3,1224.2 1301.5,1221.6 1302.6,1212.1 1303.8,1216.3 1305.0,1222.9 1306.1,1231.0 1307.3,1244.7 1308.5,1248.6 1309.7,1251.5 1310.8,1241.9 1312.0,1240.0 1313.2,1246.6 1314.4,1236.7 1315.5,1240.1 1316.7,1238.8 1317.9,1243.6 1319.1,1242.4 1320.2,1239.3 1321.4,1239.5 1322.6,1240.7 1323.8,1243.4 1324.9,1247.7 1326.1,1252.3 1327.3,1266.1 1328.4,1256.2 1329.6,1250.3 1330.8,1244.0 1332.0,1252.3 1333.1,1253.1 1334.3,1258.5 1335.5,1257.9 1336.7,1262.9 1337.8,1265.8 1339.0,1261.3 1340.2,1260.6 1341.4,1256.2 1342.5,1255.0 1343.7,1243.6 1344.9,1244.7 1346.0,1234.2 1347.2,1233.2 1348.4,1237.1 1349.6,1234.9 1350.7,1228.8 1351.9,1237.1 1353.1,1234.8 1354.3,1236.6 1355.4,1230.4 1356.6,1225.8 1357.8,1231.4 1359.0,1237.2 1360.1,1223.6 1361.3,1217.9 1362.5,1215.9 1363.6,1209.5 1364.8,1216.5 1366.0,1213.1 1367.2,1214.5 1368.3,1210.6 1369.5,1217.5 1370.7,1209.2 1371.9,1216.2 1373.0,1213.9 1374.2,1223.3 1375.4,1213.4 1376.6,1214.1 1377.7,1224.4 1378.9,1239.4 1380.1,1260.1 1381.3,1258.3 1382.4,1264.7 1383.6,1276.9 1384.8,1275.9 1385.9,1273.9 1387.1,1274.7 1388.3,1277.5 1389.5,1284.9 1390.6,1269.6 1391.8,1268.4 1393.0,1268.1 1394.2,1255.8 1395.3,1254.8 1396.5,1250.5 1397.7,1254.5 1398.9,1253.1 1400.0,1237.9 1401.2,1228.7 1402.4,1227.7 1403.5,1231.8 1404.7,1226.8 1405.9,1218.1 1407.1,1221.9 1408.2,1222.8 1409.4,1238.4 1410.6,1248.2 1411.8,1249.9 1412.9,1251.4 1414.1,1250.2 1415.3,1262.7 1416.5,1277.3 1417.6,1269.4 1418.8,1248.3 1420.0,1243.1 1421.2,1235.7 1422.3,1235.7 1423.5,1233.5 1424.7,1234.8 1425.8,1246.2 1427.0,1254.7 1428.2,1246.5 1429.4,1250.5 1430.5,1252.7 1431.7,1247.2 1432.9,1257.7 1434.1,1253.2 1435.2,1260.1 1436.4,1258.3 1437.6,1257.2 1438.8,1255.2 1439.9,1259.2 1441.1,1264.6 1442.3,1268.1 1443.4,1264.3 1444.6,1259.9 1445.8,1260.5 1447.0,1263.8 1448.1,1273.5 1449.3,1279.9 1450.5,1279.3 1451.7,1288.4 1452.8,1290.1 1454.0,1299.6 1455.2,1278.6 1456.4,1282.5 1457.5,1270.0 1458.7,1258.8 1459.9,1263.1 1461.1,1262.0 1462.2,1264.9 1463.4,1262.3 1464.6,1263.1 1465.7,1249.5 1466.9,1242.0 1468.1,1238.7 1469.3,1231.0 1470.4,1228.1 1471.6,1230.1 1472.8,1227.8 1474.0,1227.9 1475.1,1228.8 1476.3,1219.3 1477.5,1216.1 1478.7,1211.2 1479.8,1210.5 1481.0,1216.7 1482.2,1230.6 1483.3,1230.9 1484.5,1224.1 1485.7,1212.4 1486.9,1215.3 1488.0,1232.1 1489.2,1236.5 1490.4,1238.6 1491.6,1243.7 1492.7,1241.5 1493.9,1245.8 1495.1,1245.2 1496.3,1248.4 1497.4,1247.2 1498.6,1246.1 1499.8,1254.4 1501.0,1260.4 1502.1,1266.0 1503.3,1258.4 1504.5,1260.4 1505.6,1253.8 1506.8,1258.8 1508.0,1269.2 1509.2,1275.7 1510.3,1275.9 1511.5,1281.0 1512.7,1267.9 1513.9,1268.3 1515.0,1270.1 1516.2,1271.9 1517.4,1270.3 1518.6,1266.1 1519.7,1257.2 1520.9,1254.6 1522.1,1270.6 1523.2,1270.4 1524.4,1270.7 1525.6,1277.2 1526.8,1275.3 1527.9,1274.3 1529.1,1283.7 1530.3,1274.1 1531.5,1274.0 1532.6,1274.8 1533.8,1273.1 1535.0,1266.5 1536.2,1253.7 1537.3,1262.9 1538.5,1263.8 1539.7,1260.4 1540.9,1251.4 1542.0,1262.7 1543.2,1279.6 1544.4,1293.1 1545.5,1295.6 1546.7,1292.9 1547.9,1293.8 1549.1,1290.8 1550.2,1283.5 1551.4,1272.6 1552.6,1279.1 1553.8,1260.1 1554.9,1252.7 1556.1,1242.0 1557.3,1229.6 1558.5,1227.4 1559.6,1221.1 1560.8,1229.1 1562.0,1227.0 1563.1,1224.4 1564.3,1217.1 1565.5,1218.0 1566.7,1236.4 1567.8,1241.8 1569.0,1239.1 1570.2,1237.7 1571.4,1235.0 1572.5,1252.2 1573.7,1261.5 1574.9,1259.0 1576.1,1264.0 1577.2,1261.3 1578.4,1260.8 1579.6,1269.6 1580.8,1272.8 1581.9,1272.4 1583.1,1258.3 1584.3,1258.7 1585.4,1251.3 1586.6,1247.6 1587.8,1251.1 1589.0,1251.9 1590.1,1255.8 1591.3,1256.6 1592.5,1267.6 1593.7,1266.6 1594.8,1261.2 1596.0,1262.9 1597.2,1253.5 1598.4,1247.7 1599.5,1253.9 1600.7,1251.0 1601.9,1251.3 1603.0,1249.8 1604.2,1252.9 1605.4,1257.6 1606.6,1267.0 1607.7,1256.3 1608.9,1256.0 1610.1,1253.9 1611.3,1259.6 1612.4,1256.8 1613.6,1246.8 1614.8,1254.2 1616.0,1262.8 1617.1,1270.7 1618.3,1271.2 1619.5,1262.3 1620.7,1263.3 1621.8,1262.9 1623.0,1264.9 1624.2,1256.6 1625.3,1246.9 1626.5,1250.1 1627.7,1242.0 1628.9,1254.4 1630.0,1260.4 1631.2,1267.7 1632.4,1265.7 1633.6,1256.9 1634.7,1263.5 1635.9,1267.9 1637.1,1271.3 1638.3,1275.5 1639.4,1290.0 1640.6,1283.7" fill="none" stroke="#0aaeeb" stroke-width="5.6" stroke-linejoin="round"/>
<polyline points="116.2,1410.2 117.4,1392.9 118.5,1367.9 119.7,1353.8 120.9,1357.3 122.1,1356.4 123.2,1353.2 124.4,1352.6 125.6,1349.2 126.8,1358.9 127.9,1355.1 129.1,1350.6 130.3,1347.5 131.5,1337.0 132.6,1348.8 133.8,1346.5 135.0,1347.4 136.1,1343.1 137.3,1350.3 138.5,1345.8 139.7,1337.5 140.8,1335.0 142.0,1343.4 143.2,1348.3 144.4,1346.6 145.5,1343.0 146.7,1341.1 147.9,1341.0 149.1,1345.1 150.2,1348.7 151.4,1351.7 152.6,1342.3 153.8,1349.8 154.9,1340.8 156.1,1342.4 157.3,1340.7 158.4,1352.2 159.6,1355.5 160.8,1351.1 162.0,1342.1 163.1,1351.4 164.3,1349.3 165.5,1348.7 166.7,1344.1 167.8,1342.1 169.0,1347.7 170.2,1362.4 171.4,1367.4 172.5,1372.7 173.7,1384.5 174.9,1383.8 176.0,1383.0 177.2,1374.7 178.4,1389.2 179.6,1400.0 180.7,1402.4 181.9,1400.2 183.1,1401.0 184.3,1396.8 185.4,1390.1 186.6,1400.4 187.8,1382.5 189.0,1377.9 190.1,1383.1 191.3,1370.7 192.5,1366.7 193.7,1363.8 194.8,1371.7 196.0,1365.8 197.2,1365.5 198.3,1367.8 199.5,1368.5 200.7,1366.8 201.9,1370.5 203.0,1361.4 204.2,1367.1 205.4,1366.3 206.6,1365.6 207.7,1363.0 208.9,1360.7 210.1,1355.0 211.3,1365.4 212.4,1357.3 213.6,1360.0 214.8,1360.5 215.9,1364.5 217.1,1358.4 218.3,1363.9 219.5,1352.4 220.6,1354.9 221.8,1362.7 223.0,1363.5 224.2,1353.9 225.3,1346.7 226.5,1339.8 227.7,1342.1 228.9,1344.3 230.0,1344.2 231.2,1357.9 232.4,1356.9 233.6,1360.0 234.7,1363.1 235.9,1362.8 237.1,1359.5 238.2,1363.8 239.4,1358.4 240.6,1361.7 241.8,1366.4 242.9,1364.6 244.1,1362.7 245.3,1367.0 246.5,1371.2 247.6,1376.6 248.8,1378.5 250.0,1374.3 251.2,1382.6 252.3,1393.4 253.5,1388.8 254.7,1388.9 255.8,1386.2 257.0,1387.2 258.2,1390.9 259.4,1386.4 260.5,1394.0 261.7,1389.6 262.9,1380.5 264.1,1376.9 265.2,1381.5 266.4,1362.5 267.6,1360.4 268.8,1375.4 269.9,1373.2 271.1,1388.2 272.3,1381.8 273.5,1386.2 274.6,1385.9 275.8,1380.5 277.0,1388.3 278.1,1388.3 279.3,1379.7 280.5,1369.0 281.7,1361.1 282.8,1367.1 284.0,1366.5 285.2,1369.2 286.4,1370.7 287.5,1371.7 288.7,1366.1 289.9,1369.5 291.1,1367.5 292.2,1367.4 293.4,1356.8 294.6,1357.9 295.7,1351.4 296.9,1352.4 298.1,1350.4 299.3,1345.9 300.4,1340.9 301.6,1330.8 302.8,1340.3 304.0,1344.5 305.1,1342.0 306.3,1358.7 307.5,1355.5 308.7,1360.6 309.8,1370.2 311.0,1370.2 312.2,1366.6 313.4,1375.9 314.5,1373.2 315.7,1369.1 316.9,1369.9 318.0,1363.7 319.2,1363.6 320.4,1363.5 321.6,1362.8 322.7,1359.7 323.9,1362.5 325.1,1373.3 326.3,1364.4 327.4,1358.0 328.6,1355.6 329.8,1353.2 331.0,1362.0 332.1,1365.0 333.3,1366.7 334.5,1374.6 335.6,1368.3 336.8,1364.2 338.0,1369.9 339.2,1376.9 340.3,1377.9 341.5,1377.9 342.7,1371.7 343.9,1369.4 345.0,1367.4 346.2,1363.4 347.4,1365.8 348.6,1366.4 349.7,1372.8 350.9,1384.7 352.1,1388.2 353.3,1388.6 354.4,1385.5 355.6,1370.7 356.8,1363.9 357.9,1367.7 359.1,1362.5 360.3,1371.6 361.5,1369.1 362.6,1368.5 363.8,1378.8 365.0,1375.8 366.2,1377.7 367.3,1367.7 368.5,1370.6 369.7,1374.7 370.9,1383.9 372.0,1387.3 373.2,1392.7 374.4,1388.1 375.5,1389.1 376.7,1391.2 377.9,1405.1 379.1,1405.1 380.2,1412.9 381.4,1399.1 382.6,1391.3 383.8,1395.2 384.9,1388.2 386.1,1393.3 387.3,1382.8 388.5,1380.8 389.6,1377.0 390.8,1378.6 392.0,1385.6 393.2,1381.4 394.3,1367.0 395.5,1371.8 396.7,1368.0 397.8,1379.3 399.0,1379.6 400.2,1379.7 401.4,1384.6 402.5,1389.1 403.7,1388.3 404.9,1383.1 406.1,1378.5 407.2,1377.1 408.4,1385.4 409.6,1389.0 410.8,1385.2 411.9,1389.2 413.1,1390.5 414.3,1386.0 415.4,1388.1 416.6,1380.8 417.8,1382.9 419.0,1378.9 420.1,1364.7 421.3,1370.0 422.5,1375.6 423.7,1383.9 424.8,1379.3 426.0,1380.6 427.2,1389.3 428.4,1394.4 429.5,1395.5 430.7,1391.9 431.9,1389.3 433.0,1397.0 434.2,1395.8 435.4,1402.3 436.6,1400.8 437.7,1405.5 438.9,1408.3 440.1,1404.3 441.3,1385.5 442.4,1384.2 443.6,1381.3 444.8,1378.0 446.0,1382.6 447.1,1378.8 448.3,1371.0 449.5,1372.8 450.7,1375.0 451.8,1373.9 453.0,1376.9 454.2,1373.8 455.3,1375.5 456.5,1371.7 457.7,1372.5 458.9,1377.0 460.0,1373.1 461.2,1374.3 462.4,1369.6 463.6,1363.0 464.7,1367.0 465.9,1369.9 467.1,1368.5 468.3,1367.2 469.4,1361.2 470.6,1358.9 471.8,1357.2 472.9,1363.4 474.1,1372.6 475.3,1392.4 476.5,1388.2 477.6,1389.5 478.8,1383.9 480.0,1383.3 481.2,1371.7 482.3,1376.3 483.5,1382.8 484.7,1374.5 485.9,1372.1 487.0,1369.9 488.2,1369.6 489.4,1367.9 490.6,1367.7 491.7,1364.1 492.9,1364.0 494.1,1369.5 495.2,1376.4 496.4,1371.4 497.6,1378.8 498.8,1379.1 499.9,1378.2 501.1,1384.4 502.3,1386.0 503.5,1400.8 504.6,1396.0 505.8,1397.7 507.0,1390.3 508.2,1380.5 509.3,1369.2 510.5,1363.7 511.7,1361.3 512.8,1357.9 514.0,1374.4 515.2,1373.8 516.4,1368.0 517.5,1367.4 518.7,1363.0 519.9,1358.6 521.1,1357.2 522.2,1355.8 523.4,1367.5 524.6,1372.1 525.8,1369.9 526.9,1373.8 528.1,1365.3 529.3,1362.0 530.5,1355.9 531.6,1345.5 532.8,1346.4 534.0,1365.8 535.1,1366.2 536.3,1367.2 537.5,1362.9 538.7,1366.2 539.8,1369.9 541.0,1364.5 542.2,1356.8 543.4,1362.2 544.5,1365.1 545.7,1366.9 546.9,1374.4 548.1,1371.3 549.2,1373.7 550.4,1383.1 551.6,1376.1 552.7,1376.6 553.9,1373.4 555.1,1374.4 556.3,1371.3 557.4,1373.2 558.6,1373.6 559.8,1380.3 561.0,1383.1 562.1,1375.7 563.3,1384.1 564.5,1384.5 565.7,1375.0 566.8,1376.1 568.0,1381.6 569.2,1380.1 570.4,1381.7 571.5,1378.3 572.7,1381.3 573.9,1376.8 575.0,1387.0 576.2,1382.0 577.4,1378.5 578.6,1375.6 579.7,1375.7 580.9,1392.5 582.1,1387.5 583.3,1379.5 584.4,1375.5 585.6,1374.4 586.8,1381.6 588.0,1383.1 589.1,1386.3 590.3,1386.0 591.5,1383.6 592.6,1379.1 593.8,1382.7 595.0,1381.1 596.2,1382.7 597.3,1383.4 598.5,1383.2 599.7,1367.9 600.9,1363.2 602.0,1365.1 603.2,1373.1 604.4,1380.6 605.6,1382.3 606.7,1387.9 607.9,1386.6 609.1,1376.7 610.3,1374.4 611.4,1375.2 612.6,1376.5 613.8,1380.5 614.9,1385.5 616.1,1374.7 617.3,1375.6 618.5,1373.7 619.6,1370.5 620.8,1371.2 622.0,1362.3 623.2,1369.0 624.3,1379.0 625.5,1387.3 626.7,1386.4 627.9,1383.3 629.0,1370.9 630.2,1371.0 631.4,1380.2 632.5,1397.5 633.7,1402.3 634.9,1393.2 636.1,1396.0 637.2,1380.4 638.4,1374.7 639.6,1360.9 640.8,1362.2 641.9,1359.0 643.1,1357.5 644.3,1358.1 645.5,1360.6 646.6,1361.9 647.8,1364.2 649.0,1360.8 650.2,1367.3 651.3,1370.3 652.5,1362.7 653.7,1352.3 654.8,1352.3 656.0,1344.2 657.2,1342.7 658.4,1354.0 659.5,1344.2 660.7,1337.0 661.9,1334.5 663.1,1324.7 664.2,1326.9 665.4,1326.8 666.6,1337.7 667.8,1353.5 668.9,1352.5 670.1,1350.2 671.3,1349.2 672.4,1352.3 673.6,1350.7 674.8,1347.2 676.0,1335.9 677.1,1348.4 678.3,1344.8 679.5,1348.4 680.7,1352.3 681.8,1349.7 683.0,1358.0 684.2,1352.4 685.4,1359.5 686.5,1359.9 687.7,1358.8 688.9,1353.2 690.1,1352.1 691.2,1356.5 692.4,1353.0 693.6,1347.1 694.7,1356.2 695.9,1346.2 697.1,1350.9 698.3,1354.6 699.4,1365.2 700.6,1365.4 701.8,1365.8 703.0,1356.0 704.1,1347.8 705.3,1354.4 706.5,1360.1 707.7,1362.3 708.8,1366.2 710.0,1373.7 711.2,1371.8 712.3,1359.6 713.5,1366.6 714.7,1371.8 715.9,1364.1 717.0,1357.3 718.2,1364.1 719.4,1366.7 720.6,1372.9 721.7,1373.4 722.9,1362.4 724.1,1355.9 725.3,1370.1 726.4,1371.0 727.6,1360.1 728.8,1361.8 729.9,1364.0 731.1,1359.3 732.3,1363.4 733.5,1359.2 734.6,1354.8 735.8,1356.7 737.0,1353.8 738.2,1356.9 739.3,1354.8 740.5,1355.4 741.7,1363.2 742.9,1352.4 744.0,1347.5 745.2,1336.5 746.4,1335.5 747.6,1330.7 748.7,1342.5 749.9,1350.2 751.1,1347.2 752.2,1348.9 753.4,1354.3 754.6,1364.9 755.8,1361.4 756.9,1370.5 758.1,1374.3 759.3,1368.9 760.5,1368.9 761.6,1365.5 762.8,1362.1 764.0,1361.3 765.2,1361.2 766.3,1347.7 767.5,1346.3 768.7,1351.2 769.8,1367.4 771.0,1368.0 772.2,1362.0 773.4,1369.1 774.5,1379.8 775.7,1387.9 776.9,1395.1 778.1,1397.4 779.2,1393.7 780.4,1385.2 781.6,1377.8 782.8,1370.6 783.9,1362.5 785.1,1358.5 786.3,1362.9 787.5,1377.2 788.6,1370.3 789.8,1358.2 791.0,1357.3 792.1,1358.5 793.3,1360.7 794.5,1361.8 795.7,1369.5 796.8,1365.8 798.0,1371.5 799.2,1369.0 800.4,1369.9 801.5,1375.4 802.7,1371.4 803.9,1357.4 805.1,1354.0 806.2,1359.7 807.4,1363.0 808.6,1356.2 809.7,1362.0 810.9,1361.2 812.1,1362.2 813.3,1359.4 814.4,1356.0 815.6,1346.7 816.8,1345.5 818.0,1347.5 819.1,1353.4 820.3,1361.6 821.5,1353.7 822.7,1352.6 823.8,1352.3 825.0,1350.2 826.2,1351.8 827.4,1359.1 828.5,1353.6 829.7,1355.0 830.9,1359.2 832.0,1361.7 833.2,1366.1 834.4,1349.1 835.6,1349.5 836.7,1348.2 837.9,1353.2 839.1,1359.0 840.3,1364.8 841.4,1351.3 842.6,1351.9 843.8,1349.1 845.0,1339.2 846.1,1344.2 847.3,1335.6 848.5,1348.2 849.6,1356.4 850.8,1360.1 852.0,1364.7 853.2,1375.0 854.3,1369.7 855.5,1355.6 856.7,1353.9 857.9,1351.6 859.0,1351.7 860.2,1351.4 861.4,1351.0 862.6,1350.7 863.7,1350.9 864.9,1354.0 866.1,1360.8 867.3,1354.1 868.4,1370.8 869.6,1375.2 870.8,1372.1 871.9,1361.9 873.1,1364.9 874.3,1358.9 875.5,1358.2 876.6,1362.8 877.8,1359.2 879.0,1363.8 880.2,1360.2 881.3,1357.7 882.5,1362.9 883.7,1367.9 884.9,1365.2 886.0,1364.0 887.2,1364.3 888.4,1369.8 889.5,1364.4 890.7,1361.4 891.9,1373.5 893.1,1376.2 894.2,1367.3 895.4,1358.6 896.6,1352.5 897.8,1348.5 898.9,1351.7 900.1,1359.2 901.3,1363.3 902.5,1365.7 903.6,1358.0 904.8,1360.1 906.0,1360.6 907.2,1361.7 908.3,1360.8 909.5,1354.8 910.7,1354.6 911.8,1351.6 913.0,1350.0 914.2,1349.9 915.4,1352.1 916.5,1345.9 917.7,1353.0 918.9,1360.0 920.1,1359.5 921.2,1348.2 922.4,1352.3 923.6,1350.3 924.8,1357.4 925.9,1359.4 927.1,1366.3 928.3,1360.8 929.4,1359.7 930.6,1355.8 931.8,1358.1 933.0,1373.6 934.1,1381.6 935.3,1370.1 936.5,1363.0 937.7,1352.2 938.8,1355.0 940.0,1353.9 941.2,1355.4 942.4,1358.6 943.5,1352.1 944.7,1348.7 945.9,1348.0 947.1,1349.1 948.2,1365.9 949.4,1384.5 950.6,1397.2 951.7,1393.0 952.9,1391.5 954.1,1387.4 955.3,1390.6 956.4,1386.4 957.6,1388.1 958.8,1378.3 960.0,1376.4 961.1,1371.4 962.3,1366.4 963.5,1364.8 964.7,1364.7 965.8,1355.1 967.0,1360.6 968.2,1359.7 969.3,1366.1 970.5,1372.7 971.7,1371.4 972.9,1362.7 974.0,1355.8 975.2,1357.7 976.4,1352.7 977.6,1355.4 978.7,1359.2 979.9,1363.9 981.1,1362.5 982.3,1351.5 983.4,1349.6 984.6,1354.6 985.8,1349.5 987.0,1351.4 988.1,1354.0 989.3,1347.4 990.5,1353.5 991.6,1353.1 992.8,1349.9 994.0,1354.5 995.2,1350.8 996.3,1366.0 997.5,1360.9 998.7,1362.3 999.9,1348.6 1001.0,1352.9 1002.2,1361.6 1003.4,1363.8 1004.6,1375.4 1005.7,1362.0 1006.9,1360.2 1008.1,1354.6 1009.2,1359.3 1010.4,1350.3 1011.6,1350.4 1012.8,1355.6 1013.9,1359.3 1015.1,1345.8 1016.3,1357.3 1017.5,1370.6 1018.6,1369.2 1019.8,1359.9 1021.0,1361.7 1022.2,1346.4 1023.3,1355.0 1024.5,1350.9 1025.7,1338.7 1026.9,1343.1 1028.0,1350.9 1029.2,1345.4 1030.4,1344.3 1031.5,1336.1 1032.7,1340.1 1033.9,1342.8 1035.1,1339.7 1036.2,1347.2 1037.4,1358.6 1038.6,1359.9 1039.8,1361.1 1040.9,1366.0 1042.1,1356.2 1043.3,1361.7 1044.5,1364.8 1045.6,1376.3 1046.8,1377.3 1048.0,1374.3 1049.1,1372.5 1050.3,1377.8 1051.5,1378.1 1052.7,1385.4 1053.8,1372.4 1055.0,1364.2 1056.2,1359.4 1057.4,1351.2 1058.5,1351.2 1059.7,1348.4 1060.9,1351.2 1062.1,1348.4 1063.2,1351.4 1064.4,1344.4 1065.6,1347.9 1066.7,1336.2 1067.9,1331.4 1069.1,1328.1 1070.3,1331.2 1071.4,1347.4 1072.6,1361.7 1073.8,1359.9 1075.0,1359.3 1076.1,1362.7 1077.3,1363.6 1078.5,1366.0 1079.7,1358.3 1080.8,1357.2 1082.0,1347.4 1083.2,1356.7 1084.4,1352.7 1085.5,1355.7 1086.7,1350.8 1087.9,1357.6 1089.0,1359.8 1090.2,1363.7 1091.4,1374.2 1092.6,1362.7 1093.7,1365.2 1094.9,1354.4 1096.1,1361.3 1097.3,1363.3 1098.4,1349.8 1099.6,1348.6 1100.8,1358.8 1102.0,1370.9 1103.1,1379.1 1104.3,1389.7 1105.5,1386.4 1106.6,1376.4 1107.8,1387.6 1109.0,1384.2 1110.2,1373.2 1111.3,1356.1 1112.5,1341.4 1113.7,1344.0 1114.9,1337.2 1116.0,1331.8 1117.2,1340.0 1118.4,1337.4 1119.6,1348.4 1120.7,1351.3 1121.9,1336.4 1123.1,1326.3 1124.3,1334.5 1125.4,1330.2 1126.6,1335.7 1127.8,1337.7 1128.9,1338.0 1130.1,1341.1 1131.3,1345.7 1132.5,1346.4 1133.6,1335.8 1134.8,1344.5 1136.0,1347.4 1137.2,1342.7 1138.3,1343.4 1139.5,1340.7 1140.7,1323.0 1141.9,1330.5 1143.0,1335.6 1144.2,1332.6 1145.4,1332.7 1146.5,1320.4 1147.7,1325.5 1148.9,1324.8 1150.1,1325.1 1151.2,1327.1 1152.4,1328.5 1153.6,1336.9 1154.8,1346.6 1155.9,1343.7 1157.1,1335.9 1158.3,1332.8 1159.5,1337.8 1160.6,1335.7 1161.8,1336.4 1163.0,1338.1 1164.2,1340.3 1165.3,1348.7 1166.5,1344.2 1167.7,1353.3 1168.8,1357.3 1170.0,1355.3 1171.2,1360.8 1172.4,1359.0 1173.5,1373.6 1174.7,1370.2 1175.9,1361.0 1177.1,1360.8 1178.2,1362.1 1179.4,1359.7 1180.6,1366.9 1181.8,1364.7 1182.9,1374.4 1184.1,1373.6 1185.3,1359.5 1186.4,1353.2 1187.6,1342.4 1188.8,1337.2 1190.0,1351.3 1191.1,1353.4 1192.3,1347.5 1193.5,1354.1 1194.7,1353.5 1195.8,1358.3 1197.0,1366.5 1198.2,1369.9 1199.4,1370.7 1200.5,1380.0 1201.7,1375.5 1202.9,1382.1 1204.1,1384.3 1205.2,1382.0 1206.4,1376.4 1207.6,1382.6 1208.7,1375.9 1209.9,1371.6 1211.1,1361.6 1212.3,1352.9 1213.4,1344.7 1214.6,1352.7 1215.8,1350.9 1217.0,1352.9 1218.1,1360.0 1219.3,1357.8 1220.5,1353.4 1221.7,1348.4 1222.8,1344.4 1224.0,1342.2 1225.2,1342.6 1226.3,1348.8 1227.5,1355.7 1228.7,1358.5 1229.9,1361.3 1231.0,1350.9 1232.2,1346.2 1233.4,1346.9 1234.6,1350.0 1235.7,1357.0 1236.9,1370.2 1238.1,1363.3 1239.3,1362.2 1240.4,1362.9 1241.6,1364.1 1242.8,1355.4 1244.0,1349.0 1245.1,1347.3 1246.3,1356.2 1247.5,1358.3 1248.6,1356.7 1249.8,1360.4 1251.0,1359.6 1252.2,1365.2 1253.3,1363.8 1254.5,1358.3 1255.7,1358.2 1256.9,1363.3 1258.0,1364.0 1259.2,1355.8 1260.4,1362.7 1261.6,1375.6 1262.7,1375.6 1263.9,1379.7 1265.1,1382.7 1266.2,1372.5 1267.4,1375.2 1268.6,1366.3 1269.8,1359.4 1270.9,1367.6 1272.1,1364.1 1273.3,1366.7 1274.5,1367.8 1275.6,1372.7 1276.8,1368.1 1278.0,1367.1 1279.2,1363.8 1280.3,1348.5 1281.5,1337.5 1282.7,1344.3 1283.9,1343.9 1285.0,1357.6 1286.2,1360.0 1287.4,1358.3 1288.5,1367.1 1289.7,1368.0 1290.9,1364.1 1292.1,1355.3 1293.2,1349.8 1294.4,1338.0 1295.6,1336.7 1296.8,1333.4 1297.9,1341.8 1299.1,1343.1 1300.3,1353.2 1301.5,1353.3 1302.6,1344.6 1303.8,1340.1 1305.0,1339.7 1306.1,1336.8 1307.3,1334.5 1308.5,1330.1 1309.7,1337.5 1310.8,1347.5 1312.0,1356.3 1313.2,1358.4 1314.4,1372.1 1315.5,1365.6 1316.7,1362.7 1317.9,1352.7 1319.1,1351.1 1320.2,1347.0 1321.4,1348.6 1322.6,1342.7 1323.8,1335.2 1324.9,1333.1 1326.1,1329.9 1327.3,1330.0 1328.4,1328.1 1329.6,1326.3 1330.8,1324.9 1332.0,1330.6 1333.1,1324.2 1334.3,1328.7 1335.5,1333.4 1336.7,1345.5 1337.8,1342.6 1339.0,1335.6 1340.2,1343.7 1341.4,1345.0 1342.5,1340.2 1343.7,1333.3 1344.9,1334.8 1346.0,1336.1 1347.2,1336.2 1348.4,1335.7 1349.6,1331.7 1350.7,1334.9 1351.9,1342.6 1353.1,1345.9 1354.3,1345.9 1355.4,1344.2 1356.6,1347.3 1357.8,1349.3 1359.0,1340.2 1360.1,1347.1 1361.3,1348.4 1362.5,1347.3 1363.6,1343.6 1364.8,1343.7 1366.0,1336.5 1367.2,1340.6 1368.3,1346.0 1369.5,1340.7 1370.7,1335.7 1371.9,1321.1 1373.0,1323.1 1374.2,1320.5 1375.4,1328.0 1376.6,1332.4 1377.7,1336.7 1378.9,1334.2 1380.1,1340.8 1381.3,1342.1 1382.4,1338.3 1383.6,1341.0 1384.8,1346.0 1385.9,1353.0 1387.1,1355.8 1388.3,1356.4 1389.5,1351.4 1390.6,1345.7 1391.8,1348.2 1393.0,1347.7 1394.2,1342.1 1395.3,1349.6 1396.5,1343.5 1397.7,1340.5 1398.9,1344.8 1400.0,1345.8 1401.2,1350.4 1402.4,1349.7 1403.5,1347.5 1404.7,1350.9 1405.9,1353.6 1407.1,1358.2 1408.2,1362.2 1409.4,1351.8 1410.6,1351.4 1411.8,1353.8 1412.9,1349.9 1414.1,1355.9 1415.3,1356.2 1416.5,1352.8 1417.6,1353.0 1418.8,1343.2 1420.0,1348.6 1421.2,1352.9 1422.3,1353.5 1423.5,1355.2 1424.7,1357.0 1425.8,1359.8 1427.0,1353.5 1428.2,1348.0 1429.4,1341.8 1430.5,1339.0 1431.7,1331.9 1432.9,1352.9 1434.1,1351.2 1435.2,1360.2 1436.4,1360.5 1437.6,1357.2 1438.8,1368.2 1439.9,1368.4 1441.1,1359.9 1442.3,1358.5 1443.4,1359.4 1444.6,1356.8 1445.8,1346.7 1447.0,1341.9 1448.1,1339.2 1449.3,1337.6 1450.5,1341.6 1451.7,1348.8 1452.8,1350.3 1454.0,1342.2 1455.2,1332.9 1456.4,1343.7 1457.5,1353.2 1458.7,1356.2 1459.9,1353.5 1461.1,1360.6 1462.2,1357.8 1463.4,1356.6 1464.6,1361.0 1465.7,1351.8 1466.9,1361.6 1468.1,1360.0 1469.3,1360.4 1470.4,1351.9 1471.6,1354.6 1472.8,1355.4 1474.0,1350.1 1475.1,1348.6 1476.3,1343.5 1477.5,1346.0 1478.7,1337.6 1479.8,1327.1 1481.0,1328.3 1482.2,1332.2 1483.3,1337.6 1484.5,1346.8 1485.7,1355.6 1486.9,1351.2 1488.0,1355.7 1489.2,1358.1 1490.4,1364.6 1491.6,1365.1 1492.7,1365.3 1493.9,1366.2 1495.1,1375.7 1496.3,1369.7 1497.4,1364.3 1498.6,1351.9 1499.8,1344.0 1501.0,1339.6 1502.1,1349.6 1503.3,1359.2 1504.5,1360.0 1505.6,1354.9 1506.8,1353.7 1508.0,1340.6 1509.2,1354.9 1510.3,1344.7 1511.5,1347.4 1512.7,1348.5 1513.9,1354.5 1515.0,1349.2 1516.2,1356.0 1517.4,1358.2 1518.6,1357.9 1519.7,1352.8 1520.9,1348.1 1522.1,1352.7 1523.2,1356.2 1524.4,1364.0 1525.6,1369.2 1526.8,1378.9 1527.9,1370.9 1529.1,1366.1 1530.3,1363.9 1531.5,1349.4 1532.6,1341.8 1533.8,1348.2 1535.0,1358.6 1536.2,1362.7 1537.3,1365.8 1538.5,1373.5 1539.7,1368.8 1540.9,1367.1 1542.0,1380.2 1543.2,1386.7 1544.4,1382.2 1545.5,1380.5 1546.7,1385.3 1547.9,1385.6 1549.1,1374.5 1550.2,1357.1 1551.4,1356.5 1552.6,1350.0 1553.8,1343.4 1554.9,1352.5 1556.1,1343.3 1557.3,1342.8 1558.5,1348.8 1559.6,1348.5 1560.8,1351.8 1562.0,1350.2 1563.1,1337.9 1564.3,1335.5 1565.5,1335.2 1566.7,1339.1 1567.8,1344.7 1569.0,1338.0 1570.2,1333.7 1571.4,1331.3 1572.5,1337.0 1573.7,1339.1 1574.9,1343.6 1576.1,1341.9 1577.2,1346.3 1578.4,1346.6 1579.6,1346.4 1580.8,1337.1 1581.9,1330.8 1583.1,1335.2 1584.3,1335.2 1585.4,1325.5 1586.6,1329.5 1587.8,1333.5 1589.0,1336.3 1590.1,1336.8 1591.3,1333.4 1592.5,1333.5 1593.7,1332.9 1594.8,1338.9 1596.0,1347.0 1597.2,1346.5 1598.4,1356.6 1599.5,1347.6 1600.7,1351.9 1601.9,1347.6 1603.0,1349.0 1604.2,1352.3 1605.4,1358.2 1606.6,1369.5 1607.7,1373.4 1608.9,1380.4 1610.1,1373.8 1611.3,1370.9 1612.4,1359.1 1613.6,1357.1 1614.8,1360.2 1616.0,1346.0 1617.1,1343.7 1618.3,1346.6 1619.5,1354.5 1620.7,1356.4 1621.8,1353.8 1623.0,1350.0 1624.2,1357.8 1625.3,1359.6 1626.5,1360.3 1627.7,1341.6 1628.9,1334.2 1630.0,1330.6 1631.2,1334.2 1632.4,1346.4 1633.6,1345.9 1634.7,1350.0 1635.9,1342.1 1637.1,1345.4 1638.3,1345.1 1639.4,1340.7 1640.6,1341.2" fill="none" stroke="#0aaeeb" stroke-width="5.6" stroke-linejoin="round"/>
<polyline points="116.2,1410.2 117.4,1503.7 118.5,1515.4 119.7,1491.8 120.9,1481.1 122.1,1449.2 123.2,1449.4 124.4,1461.1 125.6,1445.9 126.8,1432.6 127.9,1441.2 129.1,1462.1 130.3,1459.5 131.5,1461.1 132.6,1460.6 133.8,1461.3 135.0,1465.2 136.1,1457.9 137.3,1430.8 138.5,1419.1 139.7,1434.8 140.8,1455.8 142.0,1482.5 143.2,1472.8 144.4,1471.8 145.5,1458.7 146.7,1445.5 147.9,1458.4 149.1,1480.1 150.2,1467.2 151.4,1461.9 152.6,1461.3 153.8,1474.3 154.9,1480.5 156.1,1480.3 157.3,1474.2 158.4,1478.6 159.6,1473.2 160.8,1463.7 162.0,1453.8 163.1,1463.8 164.3,1475.2 165.5,1464.6 166.7,1459.9 167.8,1461.0 169.0,1473.7 170.2,1476.9 171.4,1447.3 172.5,1445.4 173.7,1456.3 174.9,1452.3 176.0,1468.2 177.2,1479.1 178.4,1466.2 179.6,1465.1 180.7,1468.7 181.9,1460.9 183.1,1466.4 184.3,1448.7 185.4,1461.4 186.6,1474.1 187.8,1472.1 189.0,1473.8 190.1,1471.6 191.3,1454.7 192.5,1447.5 193.7,1466.1 194.8,1483.7 196.0,1468.3 197.2,1468.0 198.3,1453.7 199.5,1457.6 200.7,1454.3 201.9,1475.6 203.0,1480.5 204.2,1483.1 205.4,1498.5 206.6,1499.4 207.7,1499.5 208.9,1493.1 210.1,1495.6 211.3,1489.7 212.4,1468.1 213.6,1474.9 214.8,1475.3 215.9,1467.9 217.1,1471.3 218.3,1480.5 219.5,1472.5 220.6,1459.3 221.8,1456.0 223.0,1456.3 224.2,1471.0 225.3,1501.7 226.5,1497.5 227.7,1495.4 228.9,1491.8 230.0,1478.8 231.2,1469.7 232.4,1479.9 233.6,1482.2 234.7,1470.8 235.9,1461.3 237.1,1460.8 238.2,1457.4 239.4,1452.3 240.6,1444.8 241.8,1446.1 242.9,1440.6 244.1,1446.5 245.3,1452.4 246.5,1452.7 247.6,1460.4 248.8,1461.7 250.0,1459.8 251.2,1480.2 252.3,1479.6 253.5,1449.4 254.7,1449.8 255.8,1449.4 257.0,1460.2 258.2,1464.8 259.4,1472.2 260.5,1469.8 261.7,1469.9 262.9,1447.9 264.1,1449.2 265.2,1462.8 266.4,1457.2 267.6,1463.6 268.8,1469.1 269.9,1449.1 271.1,1450.5 272.3,1459.7 273.5,1452.5 274.6,1443.4 275.8,1446.0 277.0,1448.8 278.1,1455.9 279.3,1453.5 280.5,1449.0 281.7,1442.1 282.8,1447.9 284.0,1461.3 285.2,1459.1 286.4,1450.4 287.5,1462.3 288.7,1485.2 289.9,1487.6 291.1,1472.3 292.2,1467.7 293.4,1463.9 294.6,1454.7 295.7,1454.6 296.9,1465.9 298.1,1471.0 299.3,1462.8 300.4,1464.1 301.6,1478.3 302.8,1471.7 304.0,1438.1 305.1,1455.3 306.3,1472.1 307.5,1483.5 308.7,1473.9 309.8,1467.3 311.0,1458.8 312.2,1453.4 313.4,1460.0 314.5,1452.1 315.7,1455.0 316.9,1461.4 318.0,1472.1 319.2,1479.4 320.4,1484.4 321.6,1475.1 322.7,1458.3 323.9,1455.3 325.1,1455.3 326.3,1448.9 327.4,1451.2 328.6,1455.5 329.8,1464.8 331.0,1477.8 332.1,1475.0 333.3,1494.0 334.5,1503.7 335.6,1486.1 336.8,1465.7 338.0,1448.6 339.2,1440.9 340.3,1439.9 341.5,1438.8 342.7,1463.1 343.9,1482.4 345.0,1473.6 346.2,1468.3 347.4,1482.4 348.6,1472.2 349.7,1459.0 350.9,1470.6 352.1,1469.2 353.3,1461.1 354.4,1438.5 355.6,1442.5 356.8,1462.9 357.9,1471.4 359.1,1464.2 360.3,1452.5 361.5,1451.5 362.6,1453.1 363.8,1448.3 365.0,1440.4 366.2,1441.4 367.3,1452.4 368.5,1467.2 369.7,1452.1 370.9,1440.3 372.0,1441.3 373.2,1450.1 374.4,1438.1 375.5,1435.8 376.7,1431.6 377.9,1462.3 379.1,1463.0 380.2,1448.0 381.4,1449.3 382.6,1471.3 383.8,1474.5 384.9,1467.4 386.1,1460.0 387.3,1445.4 388.5,1421.0 389.6,1417.0 390.8,1431.7 392.0,1455.3 393.2,1451.7 394.3,1450.8 395.5,1457.1 396.7,1464.5 397.8,1477.3 399.0,1473.5 400.2,1472.1 401.4,1464.2 402.5,1462.5 403.7,1472.9 404.9,1474.8 406.1,1460.1 407.2,1458.2 408.4,1453.0 409.6,1462.0 410.8,1455.9 411.9,1454.5 413.1,1467.1 414.3,1455.6 415.4,1464.7 416.6,1460.9 417.8,1470.0 419.0,1477.7 420.1,1480.9 421.3,1462.3 422.5,1463.3 423.7,1464.3 424.8,1451.5 426.0,1458.7 427.2,1466.7 428.4,1450.2 429.5,1450.1 430.7,1457.2 431.9,1476.7 433.0,1453.5 434.2,1456.3 435.4,1462.0 436.6,1464.8 437.7,1470.9 438.9,1454.9 440.1,1451.5 441.3,1459.2 442.4,1470.9 443.6,1471.8 444.8,1462.4 446.0,1450.4 447.1,1451.6 448.3,1472.6 449.5,1463.1 450.7,1452.6 451.8,1447.4 453.0,1461.3 454.2,1465.7 455.3,1449.7 456.5,1467.1 457.7,1465.1 458.9,1458.0 460.0,1453.6 461.2,1457.9 462.4,1484.0 463.6,1478.3 464.7,1469.5 465.9,1465.1 467.1,1465.4 468.3,1475.1 469.4,1485.2 470.6,1486.5 471.8,1473.8 472.9,1473.3 474.1,1467.7 475.3,1469.7 476.5,1460.5 477.6,1469.5 478.8,1468.0 480.0,1463.2 481.2,1480.4 482.3,1486.6 483.5,1487.8 484.7,1460.6 485.9,1450.9 487.0,1447.0 488.2,1453.5 489.4,1453.2 490.6,1442.3 491.7,1442.3 492.9,1453.8 494.1,1446.9 495.2,1439.1 496.4,1440.1 497.6,1416.9 498.8,1398.2 499.9,1421.1 501.1,1436.9 502.3,1447.4 503.5,1446.1 504.6,1456.3 505.8,1446.1 507.0,1442.0 508.2,1446.1 509.3,1442.3 510.5,1445.4 511.7,1439.3 512.8,1442.4 514.0,1446.1 515.2,1437.8 516.4,1439.6 517.5,1441.3 518.7,1428.9 519.9,1435.9 521.1,1434.0 522.2,1442.7 523.4,1448.2 524.6,1452.4 525.8,1444.5 526.9,1437.4 528.1,1441.4 529.3,1441.2 530.5,1450.2 531.6,1460.0 532.8,1454.3 534.0,1444.1 535.1,1439.2 536.3,1425.0 537.5,1421.4 538.7,1431.4 539.8,1436.5 541.0,1437.1 542.2,1445.6 543.4,1463.1 544.5,1470.4 545.7,1445.7 546.9,1437.4 548.1,1429.2 549.2,1417.6 550.4,1417.6 551.6,1438.2 552.7,1452.9 553.9,1458.0 555.1,1452.3 556.3,1440.0 557.4,1441.5 558.6,1458.5 559.8,1460.5 561.0,1468.2 562.1,1453.6 563.3,1445.2 564.5,1458.6 565.7,1465.2 566.8,1459.0 568.0,1458.3 569.2,1468.7 570.4,1472.9 571.5,1458.4 572.7,1454.3 573.9,1455.0 575.0,1463.3 576.2,1464.6 577.4,1473.9 578.6,1468.4 579.7,1473.1 580.9,1474.2 582.1,1471.3 583.3,1461.1 584.4,1457.0 585.6,1448.3 586.8,1448.8 588.0,1453.0 589.1,1465.4 590.3,1468.6 591.5,1464.0 592.6,1470.8 593.8,1465.2 595.0,1477.0 596.2,1484.1 597.3,1476.9 598.5,1480.3 599.7,1463.6 600.9,1472.4 602.0,1466.6 603.2,1464.8 604.4,1481.0 605.6,1475.2 606.7,1457.4 607.9,1450.7 609.1,1460.9 610.3,1461.4 611.4,1456.9 612.6,1440.7 613.8,1424.9 614.9,1432.1 616.1,1446.6 617.3,1449.9 618.5,1458.8 619.6,1462.1 620.8,1455.2 622.0,1453.3 623.2,1474.3 624.3,1458.6 625.5,1457.4 626.7,1455.4 627.9,1452.8 629.0,1451.7 630.2,1447.3 631.4,1450.5 632.5,1443.5 633.7,1464.2 634.9,1474.5 636.1,1467.6 637.2,1453.8 638.4,1457.7 639.6,1445.6 640.8,1446.3 641.9,1450.6 643.1,1448.4 644.3,1454.8 645.5,1468.3 646.6,1487.8 647.8,1486.2 649.0,1467.1 650.2,1464.4 651.3,1474.3 652.5,1473.4 653.7,1457.8 654.8,1442.6 656.0,1426.1 657.2,1428.0 658.4,1446.3 659.5,1474.1 660.7,1466.6 661.9,1457.2 663.1,1446.9 664.2,1442.8 665.4,1454.4 666.6,1462.2 667.8,1462.6 668.9,1467.8 670.1,1462.7 671.3,1459.8 672.4,1478.7 673.6,1484.6 674.8,1483.1 676.0,1481.8 677.1,1481.2 678.3,1470.4 679.5,1466.8 680.7,1452.3 681.8,1454.0 683.0,1465.3 684.2,1467.8 685.4,1463.1 686.5,1466.8 687.7,1472.7 688.9,1476.2 690.1,1458.8 691.2,1464.9 692.4,1473.1 693.6,1475.4 694.7,1474.8 695.9,1471.3 697.1,1466.7 698.3,1475.8 699.4,1464.3 700.6,1451.1 701.8,1442.5 703.0,1442.4 704.1,1454.9 705.3,1455.7 706.5,1460.2 707.7,1456.9 708.8,1462.4 710.0,1476.9 711.2,1492.6 712.3,1482.3 713.5,1465.1 714.7,1469.9 715.9,1470.2 717.0,1457.2 718.2,1447.1 719.4,1467.8 720.6,1460.8 721.7,1451.7 722.9,1456.4 724.1,1441.1 725.3,1442.8 726.4,1428.2 727.6,1432.2 728.8,1435.6 729.9,1452.4 731.1,1476.6 732.3,1481.1 733.5,1473.7 734.6,1459.9 735.8,1453.0 737.0,1444.9 738.2,1457.4 739.3,1466.6 740.5,1468.7 741.7,1468.8 742.9,1465.4 744.0,1475.9 745.2,1461.6 746.4,1457.6 747.6,1458.2 748.7,1464.9 749.9,1464.0 751.1,1471.6 752.2,1457.6 753.4,1463.0 754.6,1468.2 755.8,1475.9 756.9,1483.1 758.1,1487.9 759.3,1476.2 760.5,1464.2 761.6,1462.1 762.8,1461.5 764.0,1457.6 765.2,1475.7 766.3,1487.7 767.5,1469.3 768.7,1478.8 769.8,1478.7 771.0,1463.8 772.2,1457.6 773.4,1465.9 774.5,1466.1 775.7,1456.9 776.9,1451.8 778.1,1444.7 779.2,1462.9 780.4,1464.2 781.6,1459.2 782.8,1465.5 783.9,1457.2 785.1,1452.5 786.3,1445.2 787.5,1459.4 788.6,1460.2 789.8,1458.8 791.0,1462.9 792.1,1462.6 793.3,1474.9 794.5,1463.2 795.7,1468.2 796.8,1469.3 798.0,1460.3 799.2,1464.7 800.4,1460.8 801.5,1447.4 802.7,1436.3 803.9,1446.3 805.1,1455.3 806.2,1465.0 807.4,1469.1 808.6,1455.0 809.7,1445.3 810.9,1439.9 812.1,1443.6 813.3,1447.5 814.4,1463.6 815.6,1472.0 816.8,1473.8 818.0,1465.0 819.1,1461.8 820.3,1466.1 821.5,1465.9 822.7,1465.0 823.8,1456.5 825.0,1470.2 826.2,1481.0 827.4,1469.2 828.5,1464.8 829.7,1455.8 830.9,1459.5 832.0,1462.3 833.2,1464.1 834.4,1456.2 835.6,1452.1 836.7,1461.9 837.9,1459.4 839.1,1455.1 840.3,1452.5 841.4,1458.6 842.6,1467.0 843.8,1480.8 845.0,1466.9 846.1,1455.2 847.3,1458.9 848.5,1472.2 849.6,1472.0 850.8,1459.9 852.0,1454.3 853.2,1459.0 854.3,1453.7 855.5,1453.3 856.7,1457.3 857.9,1469.7 859.0,1468.6 860.2,1463.7 861.4,1464.9 862.6,1463.0 863.7,1471.8 864.9,1465.9 866.1,1454.4 867.3,1462.2 868.4,1474.2 869.6,1470.9 870.8,1465.8 871.9,1478.1 873.1,1488.0 874.3,1492.4 875.5,1476.1 876.6,1458.9 877.8,1455.2 879.0,1460.6 880.2,1470.2 881.3,1457.2 882.5,1428.4 883.7,1442.1 884.9,1452.1 886.0,1456.4 887.2,1458.8 888.4,1460.2 889.5,1468.2 890.7,1459.7 891.9,1434.0 893.1,1429.7 894.2,1456.4 895.4,1462.8 896.6,1470.7 897.8,1461.8 898.9,1453.3 900.1,1451.6 901.3,1449.8 902.5,1445.0 903.6,1467.1 904.8,1485.7 906.0,1476.4 907.2,1459.2 908.3,1474.5 909.5,1479.0 910.7,1471.6 911.8,1443.1 913.0,1449.6 914.2,1450.8 915.4,1455.5 916.5,1458.8 917.7,1478.8 918.9,1473.0 920.1,1450.2 921.2,1447.3 922.4,1457.5 923.6,1464.2 924.8,1479.3 925.9,1470.5 927.1,1464.1 928.3,1457.6 929.4,1447.8 930.6,1452.3 931.8,1459.7 933.0,1449.6 934.1,1456.6 935.3,1465.7 936.5,1457.7 937.7,1448.7 938.8,1465.5 940.0,1455.6 941.2,1430.5 942.4,1419.1 943.5,1448.3 944.7,1456.8 945.9,1463.8 947.1,1472.9 948.2,1467.7 949.4,1469.8 950.6,1464.1 951.7,1453.3 952.9,1466.6 954.1,1456.0 955.3,1453.9 956.4,1461.1 957.6,1450.3 958.8,1448.1 960.0,1462.3 961.1,1455.8 962.3,1459.5 963.5,1460.3 964.7,1450.5 965.8,1453.8 967.0,1445.7 968.2,1453.8 969.3,1449.1 970.5,1444.2 971.7,1437.7 972.9,1455.6 974.0,1456.3 975.2,1465.2 976.4,1452.1 977.6,1447.7 978.7,1447.2 979.9,1455.5 981.1,1473.5 982.3,1475.1 983.4,1476.2 984.6,1463.9 985.8,1459.4 987.0,1463.3 988.1,1470.2 989.3,1465.9 990.5,1462.7 991.6,1465.0 992.8,1471.9 994.0,1456.6 995.2,1453.5 996.3,1457.8 997.5,1466.0 998.7,1466.3 999.9,1467.2 1001.0,1453.5 1002.2,1433.7 1003.4,1445.9 1004.6,1457.5 1005.7,1455.7 1006.9,1449.3 1008.1,1451.4 1009.2,1457.9 1010.4,1468.0 1011.6,1468.6 1012.8,1472.5 1013.9,1460.6 1015.1,1443.7 1016.3,1463.4 1017.5,1457.6 1018.6,1451.2 1019.8,1452.4 1021.0,1445.8 1022.2,1454.2 1023.3,1453.4 1024.5,1451.0 1025.7,1462.2 1026.9,1471.7 1028.0,1454.0 1029.2,1457.2 1030.4,1470.9 1031.5,1472.9 1032.7,1457.9 1033.9,1449.1 1035.1,1450.9 1036.2,1462.8 1037.4,1474.7 1038.6,1476.2 1039.8,1472.8 1040.9,1475.9 1042.1,1475.2 1043.3,1463.6 1044.5,1476.2 1045.6,1478.5 1046.8,1481.3 1048.0,1469.2 1049.1,1467.3 1050.3,1467.6 1051.5,1475.7 1052.7,1488.2 1053.8,1496.3 1055.0,1491.9 1056.2,1491.0 1057.4,1484.7 1058.5,1491.3 1059.7,1477.5 1060.9,1468.1 1062.1,1471.9 1063.2,1482.8 1064.4,1471.6 1065.6,1472.3 1066.7,1472.9 1067.9,1486.7 1069.1,1484.3 1070.3,1478.7 1071.4,1486.9 1072.6,1492.6 1073.8,1487.4 1075.0,1487.8 1076.1,1493.8 1077.3,1476.7 1078.5,1478.9 1079.7,1482.4 1080.8,1475.5 1082.0,1473.9 1083.2,1470.3 1084.4,1477.9 1085.5,1495.8 1086.7,1508.4 1087.9,1501.5 1089.0,1485.6 1090.2,1475.8 1091.4,1481.8 1092.6,1488.8 1093.7,1491.1 1094.9,1492.7 1096.1,1497.4 1097.3,1485.5 1098.4,1476.6 1099.6,1460.7 1100.8,1466.2 1102.0,1466.5 1103.1,1451.0 1104.3,1444.5 1105.5,1455.8 1106.6,1461.2 1107.8,1475.0 1109.0,1481.6 1110.2,1491.3 1111.3,1482.1 1112.5,1469.6 1113.7,1474.2 1114.9,1489.4 1116.0,1464.9 1117.2,1446.4 1118.4,1465.8 1119.6,1488.6 1120.7,1474.4 1121.9,1477.0 1123.1,1473.6 1124.3,1463.4 1125.4,1460.5 1126.6,1479.9 1127.8,1482.2 1128.9,1491.4 1130.1,1488.9 1131.3,1483.7 1132.5,1478.6 1133.6,1465.6 1134.8,1462.4 1136.0,1462.3 1137.2,1457.1 1138.3,1454.4 1139.5,1455.2 1140.7,1473.8 1141.9,1477.8 1143.0,1460.7 1144.2,1449.0 1145.4,1445.6 1146.5,1444.6 1147.7,1442.4 1148.9,1455.0 1150.1,1462.7 1151.2,1463.0 1152.4,1468.9 1153.6,1467.5 1154.8,1465.1 1155.9,1457.1 1157.1,1458.8 1158.3,1454.1 1159.5,1447.7 1160.6,1464.1 1161.8,1470.9 1163.0,1483.4 1164.2,1497.5 1165.3,1503.3 1166.5,1486.6 1167.7,1500.6 1168.8,1472.4 1170.0,1454.6 1171.2,1452.9 1172.4,1459.4 1173.5,1442.1 1174.7,1445.5 1175.9,1470.6 1177.1,1456.2 1178.2,1449.5 1179.4,1421.4 1180.6,1413.9 1181.8,1437.7 1182.9,1457.4 1184.1,1459.5 1185.3,1449.7 1186.4,1462.8 1187.6,1474.6 1188.8,1473.4 1190.0,1468.7 1191.1,1454.0 1192.3,1459.1 1193.5,1469.1 1194.7,1473.7 1195.8,1463.1 1197.0,1460.0 1198.2,1454.1 1199.4,1442.5 1200.5,1461.9 1201.7,1462.7 1202.9,1442.7 1204.1,1454.3 1205.2,1453.5 1206.4,1460.4 1207.6,1465.1 1208.7,1459.0 1209.9,1464.8 1211.1,1475.8 1212.3,1475.0 1213.4,1468.0 1214.6,1465.4 1215.8,1460.5 1217.0,1468.3 1218.1,1481.3 1219.3,1478.2 1220.5,1471.2 1221.7,1473.0 1222.8,1485.9 1224.0,1497.7 1225.2,1502.1 1226.3,1489.6 1227.5,1478.3 1228.7,1455.3 1229.9,1460.0 1231.0,1466.3 1232.2,1469.7 1233.4,1459.5 1234.6,1457.7 1235.7,1461.0 1236.9,1464.8 1238.1,1471.4 1239.3,1472.2 1240.4,1457.9 1241.6,1456.9 1242.8,1450.6 1244.0,1451.5 1245.1,1457.7 1246.3,1452.7 1247.5,1453.0 1248.6,1457.4 1249.8,1468.8 1251.0,1469.9 1252.2,1477.3 1253.3,1476.2 1254.5,1474.7 1255.7,1450.6 1256.9,1447.2 1258.0,1453.8 1259.2,1449.2 1260.4,1458.4 1261.6,1468.6 1262.7,1458.4 1263.9,1477.0 1265.1,1465.7 1266.2,1463.4 1267.4,1447.0 1268.6,1454.8 1269.8,1456.2 1270.9,1469.2 1272.1,1475.5 1273.3,1468.9 1274.5,1467.3 1275.6,1473.7 1276.8,1476.0 1278.0,1465.6 1279.2,1471.3 1280.3,1473.2 1281.5,1476.1 1282.7,1471.8 1283.9,1457.6 1285.0,1473.0 1286.2,1475.7 1287.4,1479.0 1288.5,1478.3 1289.7,1478.1 1290.9,1459.5 1292.1,1446.9 1293.2,1443.7 1294.4,1419.8 1295.6,1422.2 1296.8,1451.6 1297.9,1451.9 1299.1,1452.7 1300.3,1453.2 1301.5,1467.2 1302.6,1455.3 1303.8,1452.3 1305.0,1443.8 1306.1,1449.2 1307.3,1465.3 1308.5,1458.9 1309.7,1448.1 1310.8,1443.5 1312.0,1439.0 1313.2,1450.1 1314.4,1450.9 1315.5,1448.7 1316.7,1454.6 1317.9,1442.2 1319.1,1446.1 1320.2,1446.8 1321.4,1455.5 1322.6,1464.6 1323.8,1458.3 1324.9,1445.9 1326.1,1420.1 1327.3,1425.9 1328.4,1454.2 1329.6,1474.9 1330.8,1458.3 1332.0,1454.3 1333.1,1449.9 1334.3,1429.1 1335.5,1447.5 1336.7,1461.6 1337.8,1456.9 1339.0,1442.7 1340.2,1430.4 1341.4,1450.3 1342.5,1463.1 1343.7,1452.2 1344.9,1443.8 1346.0,1455.5 1347.2,1453.3 1348.4,1439.9 1349.6,1444.8 1350.7,1452.9 1351.9,1453.2 1353.1,1453.9 1354.3,1449.6 1355.4,1447.4 1356.6,1440.6 1357.8,1440.0 1359.0,1436.1 1360.1,1440.4 1361.3,1442.0 1362.5,1448.7 1363.6,1434.0 1364.8,1430.3 1366.0,1446.6 1367.2,1456.9 1368.3,1462.9 1369.5,1473.4 1370.7,1465.1 1371.9,1458.4 1373.0,1457.0 1374.2,1449.7 1375.4,1435.4 1376.6,1434.8 1377.7,1450.0 1378.9,1471.8 1380.1,1476.3 1381.3,1449.9 1382.4,1447.4 1383.6,1435.6 1384.8,1449.8 1385.9,1456.8 1387.1,1462.9 1388.3,1452.4 1389.5,1450.1 1390.6,1442.0 1391.8,1435.8 1393.0,1435.8 1394.2,1444.6 1395.3,1437.4 1396.5,1430.4 1397.7,1440.8 1398.9,1463.6 1400.0,1474.1 1401.2,1461.8 1402.4,1444.0 1403.5,1442.9 1404.7,1445.9 1405.9,1434.9 1407.1,1448.2 1408.2,1467.9 1409.4,1476.5 1410.6,1483.9 1411.8,1477.2 1412.9,1467.0 1414.1,1455.7 1415.3,1457.5 1416.5,1453.5 1417.6,1452.8 1418.8,1454.8 1420.0,1451.1 1421.2,1435.9 1422.3,1448.0 1423.5,1449.4 1424.7,1446.9 1425.8,1428.1 1427.0,1423.4 1428.2,1412.5 1429.4,1398.4 1430.5,1412.4 1431.7,1436.8 1432.9,1442.6 1434.1,1449.1 1435.2,1457.1 1436.4,1453.3 1437.6,1447.8 1438.8,1443.2 1439.9,1450.8 1441.1,1442.6 1442.3,1447.4 1443.4,1441.4 1444.6,1456.7 1445.8,1455.9 1447.0,1454.0 1448.1,1447.7 1449.3,1434.9 1450.5,1440.6 1451.7,1440.9 1452.8,1441.9 1454.0,1443.0 1455.2,1446.7 1456.4,1438.8 1457.5,1438.1 1458.7,1441.4 1459.9,1443.7 1461.1,1450.0 1462.2,1463.6 1463.4,1458.9 1464.6,1435.3 1465.7,1415.7 1466.9,1427.1 1468.1,1454.5 1469.3,1466.7 1470.4,1463.2 1471.6,1453.2 1472.8,1456.4 1474.0,1474.4 1475.1,1483.9 1476.3,1483.0 1477.5,1472.5 1478.7,1459.8 1479.8,1450.3 1481.0,1442.2 1482.2,1439.6 1483.3,1455.3 1484.5,1467.5 1485.7,1461.5 1486.9,1465.7 1488.0,1481.2 1489.2,1483.3 1490.4,1469.8 1491.6,1462.2 1492.7,1475.2 1493.9,1476.9 1495.1,1462.8 1496.3,1461.7 1497.4,1471.4 1498.6,1455.3 1499.8,1459.1 1501.0,1454.7 1502.1,1454.2 1503.3,1467.5 1504.5,1477.9 1505.6,1466.0 1506.8,1468.9 1508.0,1464.2 1509.2,1474.3 1510.3,1484.1 1511.5,1476.5 1512.7,1473.3 1513.9,1467.9 1515.0,1463.6 1516.2,1459.3 1517.4,1459.8 1518.6,1467.4 1519.7,1459.1 1520.9,1450.6 1522.1,1456.3 1523.2,1462.3 1524.4,1470.1 1525.6,1464.8 1526.8,1473.8 1527.9,1469.5 1529.1,1451.9 1530.3,1458.8 1531.5,1487.4 1532.6,1479.4 1533.8,1471.4 1535.0,1479.0 1536.2,1482.4 1537.3,1473.3 1538.5,1469.0 1539.7,1464.4 1540.9,1458.8 1542.0,1455.2 1543.2,1463.1 1544.4,1456.7 1545.5,1463.1 1546.7,1448.8 1547.9,1455.5 1549.1,1466.9 1550.2,1467.0 1551.4,1452.7 1552.6,1462.5 1553.8,1493.7 1554.9,1506.3 1556.1,1494.5 1557.3,1478.4 1558.5,1473.4 1559.6,1470.8 1560.8,1478.1 1562.0,1473.4 1563.1,1472.6 1564.3,1484.2 1565.5,1499.3 1566.7,1500.1 1567.8,1474.7 1569.0,1484.2 1570.2,1493.4 1571.4,1493.0 1572.5,1486.9 1573.7,1493.9 1574.9,1516.2 1576.1,1515.2 1577.2,1495.0 1578.4,1482.3 1579.6,1461.7 1580.8,1461.7 1581.9,1474.5 1583.1,1480.0 1584.3,1463.4 1585.4,1459.9 1586.6,1470.5 1587.8,1480.4 1589.0,1482.3 1590.1,1471.3 1591.3,1476.7 1592.5,1488.8 1593.7,1485.3 1594.8,1479.8 1596.0,1475.7 1597.2,1471.6 1598.4,1462.1 1599.5,1457.8 1600.7,1463.0 1601.9,1471.5 1603.0,1483.6 1604.2,1499.6 1605.4,1501.8 1606.6,1474.8 1607.7,1451.0 1608.9,1450.3 1610.1,1455.5 1611.3,1449.1 1612.4,1437.4 1613.6,1458.3 1614.8,1462.7 1616.0,1458.6 1617.1,1464.1 1618.3,1479.9 1619.5,1480.8 1620.7,1468.4 1621.8,1458.8 1623.0,1449.5 1624.2,1462.5 1625.3,1469.0 1626.5,1472.7 1627.7,1471.2 1628.9,1449.7 1630.0,1449.0 1631.2,1433.5 1632.4,1426.2 1633.6,1435.3 1634.7,1449.1 1635.9,1461.0 1637.1,1476.5 1638.3,1477.9 1639.4,1461.3 1640.6,1449.3" fill="none" stroke="#0aaeeb" stroke-width="5.6" stroke-linejoin="round"/>
<rect x="116.5" y="1162.5" width="1525.20" height="412.80" fill="none" stroke="#262626" stroke-width="2.2"/>
<text x="107.80" y="1586.80" font-size="32" text-anchor="end" font-family="'Liberation Sans', Arial, sans-serif" fill="#111" >0</text>
<line x1="116.50" y1="1492.74" x2="124.50" y2="1492.74" stroke="#262626" stroke-width="2.2" />
<line x1="1641.70" y1="1492.74" x2="1633.70" y2="1492.74" stroke="#262626" stroke-width="2.2" />
<text x="107.80" y="1504.24" font-size="32" text-anchor="end" font-family="'Liberation Sans', Arial, sans-serif" fill="#111" >0.5</text>
<line x1="116.50" y1="1410.18" x2="124.50" y2="1410.18" stroke="#262626" stroke-width="2.2" />
<line x1="1641.70" y1="1410.18" x2="1633.70" y2="1410.18" stroke="#262626" stroke-width="2.2" />
<text x="107.80" y="1421.68" font-size="32" text-anchor="end" font-family="'Liberation Sans', Arial, sans-serif" fill="#111" >1</text>
<line x1="116.50" y1="1327.62" x2="124.50" y2="1327.62" stroke="#262626" stroke-width="2.2" />
<line x1="1641.70" y1="1327.62" x2="1633.70" y2="1327.62" stroke="#262626" stroke-width="2.2" />
<text x="107.80" y="1339.12" font-size="32" text-anchor="end" font-family="'Liberation Sans', Arial, sans-serif" fill="#111" >1.5</text>
<line x1="116.50" y1="1245.06" x2="124.50" y2="1245.06" stroke="#262626" stroke-width="2.2" />
<line x1="1641.70" y1="1245.06" x2="1633.70" y2="1245.06" stroke="#262626" stroke-width="2.2" />
<text x="107.80" y="1256.56" font-size="32" text-anchor="end" font-family="'Liberation Sans', Arial, sans-serif" fill="#111" >2</text>
<text x="107.80" y="1174.00" font-size="32" text-anchor="end" font-family="'Liberation Sans', Arial, sans-serif" fill="#111" >2.5</text>
<text x="116.20" y="1614.50" font-size="32" text-anchor="middle" font-family="'Liberation Sans', Arial, sans-serif" fill="#111" >1</text>
<line x1="232.38" y1="1575.30" x2="232.38" y2="1567.30" stroke="#262626" stroke-width="2.2" />
<line x1="232.38" y1="1162.50" x2="232.38" y2="1170.50" stroke="#262626" stroke-width="2.2" />
<text x="232.38" y="1614.50" font-size="32" text-anchor="middle" font-family="'Liberation Sans', Arial, sans-serif" fill="#111" >100</text>
<line x1="349.73" y1="1575.30" x2="349.73" y2="1567.30" stroke="#262626" stroke-width="2.2" />
<line x1="349.73" y1="1162.50" x2="349.73" y2="1170.50" stroke="#262626" stroke-width="2.2" />
<text x="349.73" y="1614.50" font-size="32" text-anchor="middle" font-family="'Liberation Sans', Arial, sans-serif" fill="#111" >200</text>
<line x1="467.08" y1="1575.30" x2="467.08" y2="1567.30" stroke="#262626" stroke-width="2.2" />
<line x1="467.08" y1="1162.50" x2="467.08" y2="1170.50" stroke="#262626" stroke-width="2.2" />
<text x="467.08" y="1614.50" font-size="32" text-anchor="middle" font-family="'Liberation Sans', Arial, sans-serif" fill="#111" >300</text>
<line x1="584.43" y1="1575.30" x2="584.43" y2="1567.30" stroke="#262626" stroke-width="2.2" />
<line x1="584.43" y1="1162.50" x2="584.43" y2="1170.50" stroke="#262626" stroke-width="2.2" />
<text x="584.43" y="1614.50" font-size="32" text-anchor="middle" font-family="'Liberation Sans', Arial, sans-serif" fill="#111" >400</text>
<line x1="701.79" y1="1575.30" x2="701.79" y2="1567.30" stroke="#262626" stroke-width="2.2" />
<line x1="701.79" y1="1162.50" x2="701.79" y2="1170.50" stroke="#262626" stroke-width="2.2" />
<text x="701.79" y="1614.50" font-size="32" text-anchor="middle" font-family="'Liberation Sans', Arial, sans-serif" fill="#111" >500</text>
<line x1="819.14" y1="1575.30" x2="819.14" y2="1567.30" stroke="#262626" stroke-width="2.2" />
<line x1="819.14" y1="1162.50" x2="819.14" y2="1170.50" stroke="#262626" stroke-width="2.2" />
<text x="819.14" y="1614.50" font-size="32" text-anchor="middle" font-family="'Liberation Sans', Arial, sans-serif" fill="#111" >600</text>
<line x1="936.49" y1="1575.30" x2="936.49" y2="1567.30" stroke="#262626" stroke-width="2.2" />
<line x1="936.49" y1="1162.50" x2="936.49" y2="1170.50" stroke="#262626" stroke-width="2.2" />
<text x="936.49" y="1614.50" font-size="32" text-anchor="middle" font-family="'Liberation Sans', Arial, sans-serif" fill="#111" >700</text>
<line x1="1053.84" y1="1575.30" x2="1053.84" y2="1567.30" stroke="#262626" stroke-width="2.2" />
<line x1="1053.84" y1="1162.50" x2="1053.84" y2="1170.50" stroke="#262626" stroke-width="2.2" />
<text x="1053.84" y="1614.50" font-size="32" text-anchor="middle" font-family="'Liberation Sans', Arial, sans-serif" fill="#111" >800</text>
<line x1="1171.19" y1="1575.30" x2="1171.19" y2="1567.30" stroke="#262626" stroke-width="2.2" />
<line x1="1171.19" y1="1162.50" x2="1171.19" y2="1170.50" stroke="#262626" stroke-width="2.2" />
<text x="1171.19" y="1614.50" font-size="32" text-anchor="middle" font-family="'Liberation Sans', Arial, sans-serif" fill="#111" >900</text>
<line x1="1288.54" y1="1575.30" x2="1288.54" y2="1567.30" stroke="#262626" stroke-width="2.2" />
<line x1="1288.54" y1="1162.50" x2="1288.54" y2="1170.50" stroke="#262626" stroke-width="2.2" />
<text x="1288.54" y="1614.50" font-size="32" text-anchor="middle" font-family="'Liberation Sans', Arial, sans-serif" fill="#111" >1000</text>
<line x1="1405.90" y1="1575.30" x2="1405.90" y2="1567.30" stroke="#262626" stroke-width="2.2" />
<line x1="1405.90" y1="1162.50" x2="1405.90" y2="1170.50" stroke="#262626" stroke-width="2.2" />
<text x="1405.90" y="1614.50" font-size="32" text-anchor="middle" font-family="'Liberation Sans', Arial, sans-serif" fill="#111" >1100</text>
<line x1="1523.25" y1="1575.30" x2="1523.25" y2="1567.30" stroke="#262626" stroke-width="2.2" />
<line x1="1523.25" y1="1162.50" x2="1523.25" y2="1170.50" stroke="#262626" stroke-width="2.2" />
<text x="1523.25" y="1614.50" font-size="32" text-anchor="middle" font-family="'Liberation Sans', Arial, sans-serif" fill="#111" >1200</text>
<text x="1640.60" y="1614.50" font-size="32" text-anchor="middle" font-family="'Liberation Sans', Arial, sans-serif" fill="#111" >1300</text>
<text x="879.20" y="1653.10" font-size="32" text-anchor="middle" font-family="'Liberation Sans', Arial, sans-serif" fill="#111" >Time (s)</text>
<text x="40.70" y="1366.30" font-size="32" text-anchor="middle" font-family="'Liberation Sans', Arial, sans-serif" fill="#111" transform="rotate(-90 40.7 1366.3)">Scaling Factors (AU)</text>
<path d="M208.4,1214.4 L168.9,1214.4 L127.7,1283.3" fill="none" stroke="#000" stroke-width="2.6"/>
<path d="M119.5,1297.0 L123.0,1280.4 L132.4,1286.1 Z" fill="#000"/>
<text x="209.20" y="1214.40" font-size="32" text-anchor="start" font-family="'DejaVu Sans', sans-serif" fill="#111" >1.7</text>
<path d="M178.2,1337.9 L148.8,1337.9 L130.4,1365.2" fill="none" stroke="#000" stroke-width="2.6"/>
<path d="M121.5,1378.5 L125.9,1362.2 L135.0,1368.3 Z" fill="#000"/>
<text x="177.60" y="1338.60" font-size="32" text-anchor="start" font-family="'DejaVu Sans', sans-serif" fill="#111" >1.2</text>
<path d="M176.9,1526.6 L147.8,1526.6 L125.8,1475.2" fill="none" stroke="#000" stroke-width="2.6"/>
<path d="M119.5,1460.5 L130.9,1473.0 L120.7,1477.4 Z" fill="#000"/>
<text x="179.00" y="1548.20" font-size="32" text-anchor="start" font-family="'DejaVu Sans', sans-serif" fill="#111" >0.7</text>
<path d="M1585.9,1219.3 L1614.6,1219.3 L1631.4,1240.1" fill="none" stroke="#000" stroke-width="2.6"/>
<path d="M1641.5,1252.5 L1627.2,1243.5 L1635.7,1236.6 Z" fill="#000"/>
<text x="1534.20" y="1217.40" font-size="32" text-anchor="start" font-family="'DejaVu Sans', sans-serif" fill="#111" >2.0</text>
<path d="M1584.0,1324.8 L1613.6,1324.8 L1629.3,1338.1" fill="none" stroke="#000" stroke-width="2.6"/>
<path d="M1641.5,1348.5 L1625.7,1342.3 L1632.9,1333.9 Z" fill="#000"/>
<text x="1530.90" y="1323.90" font-size="32" text-anchor="start" font-family="'DejaVu Sans', sans-serif" fill="#111" >1.4</text>
<path d="M1569.7,1527.2 L1599.3,1527.2 L1632.9,1474.0" fill="none" stroke="#000" stroke-width="2.6"/>
<path d="M1641.5,1460.5 L1637.6,1477.0 L1628.3,1471.1 Z" fill="#000"/>
<text x="1515.00" y="1548.20" font-size="32" text-anchor="start" font-family="'DejaVu Sans', sans-serif" fill="#111" >0.7</text>
<text x="1648.80" y="1237.30" font-size="32" text-anchor="start" font-family="'DejaVu Sans', sans-serif" fill="#111" >Channel O2</text>
<text x="1648.80" y="1278.30" font-size="32" text-anchor="start" font-family="'DejaVu Sans', sans-serif" fill="#111" >Participant 2</text>
<text x="1648.80" y="1343.60" font-size="32" text-anchor="start" font-family="'DejaVu Sans', sans-serif" fill="#111" >Channel FC1</text>
<text x="1648.80" y="1384.30" font-size="32" text-anchor="start" font-family="'DejaVu Sans', sans-serif" fill="#111" >Participant 2</text>
<text x="1648.80" y="1449.90" font-size="32" text-anchor="start" font-family="'DejaVu Sans', sans-serif" fill="#111" >Channel FC1</text>
<text x="1648.80" y="1490.00" font-size="32" text-anchor="start" font-family="'DejaVu Sans', sans-serif" fill="#111" >Participant 1</text>
</svg></body></html>
